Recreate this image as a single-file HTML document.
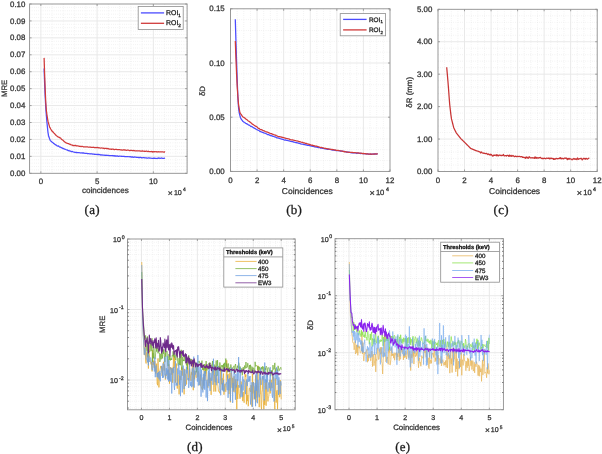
<!DOCTYPE html>
<html><head><meta charset="utf-8"><style>
html,body{margin:0;padding:0;background:#fff;}
svg{display:block;font-family:"Liberation Sans", sans-serif;will-change:transform;}
text{text-rendering:geometricPrecision;stroke:currentColor;stroke-width:0.28px;}
</style></head><body>
<svg width="602" height="454" viewBox="0 0 602 454">
<rect width="602" height="454" fill="#fff"/>
<line x1="29.6" y1="4" x2="29.6" y2="173.3" stroke="#d6d6d6" stroke-width="0.5" stroke-dasharray="0.6 1.6"/>
<line x1="52.1" y1="4" x2="52.1" y2="173.3" stroke="#d6d6d6" stroke-width="0.5" stroke-dasharray="0.6 1.6"/>
<line x1="63.35" y1="4" x2="63.35" y2="173.3" stroke="#d6d6d6" stroke-width="0.5" stroke-dasharray="0.6 1.6"/>
<line x1="74.6" y1="4" x2="74.6" y2="173.3" stroke="#d6d6d6" stroke-width="0.5" stroke-dasharray="0.6 1.6"/>
<line x1="85.85" y1="4" x2="85.85" y2="173.3" stroke="#d6d6d6" stroke-width="0.5" stroke-dasharray="0.6 1.6"/>
<line x1="108.35" y1="4" x2="108.35" y2="173.3" stroke="#d6d6d6" stroke-width="0.5" stroke-dasharray="0.6 1.6"/>
<line x1="119.6" y1="4" x2="119.6" y2="173.3" stroke="#d6d6d6" stroke-width="0.5" stroke-dasharray="0.6 1.6"/>
<line x1="130.85" y1="4" x2="130.85" y2="173.3" stroke="#d6d6d6" stroke-width="0.5" stroke-dasharray="0.6 1.6"/>
<line x1="142.1" y1="4" x2="142.1" y2="173.3" stroke="#d6d6d6" stroke-width="0.5" stroke-dasharray="0.6 1.6"/>
<line x1="164.6" y1="4" x2="164.6" y2="173.3" stroke="#d6d6d6" stroke-width="0.5" stroke-dasharray="0.6 1.6"/>
<line x1="175.85" y1="4" x2="175.85" y2="173.3" stroke="#d6d6d6" stroke-width="0.5" stroke-dasharray="0.6 1.6"/>
<line x1="187.1" y1="4" x2="187.1" y2="173.3" stroke="#d6d6d6" stroke-width="0.5" stroke-dasharray="0.6 1.6"/>
<line x1="29.6" y1="169.91" x2="187.1" y2="169.91" stroke="#d6d6d6" stroke-width="0.5" stroke-dasharray="0.6 1.6"/>
<line x1="29.6" y1="166.53" x2="187.1" y2="166.53" stroke="#d6d6d6" stroke-width="0.5" stroke-dasharray="0.6 1.6"/>
<line x1="29.6" y1="163.14" x2="187.1" y2="163.14" stroke="#d6d6d6" stroke-width="0.5" stroke-dasharray="0.6 1.6"/>
<line x1="29.6" y1="159.76" x2="187.1" y2="159.76" stroke="#d6d6d6" stroke-width="0.5" stroke-dasharray="0.6 1.6"/>
<line x1="29.6" y1="152.98" x2="187.1" y2="152.98" stroke="#d6d6d6" stroke-width="0.5" stroke-dasharray="0.6 1.6"/>
<line x1="29.6" y1="149.6" x2="187.1" y2="149.6" stroke="#d6d6d6" stroke-width="0.5" stroke-dasharray="0.6 1.6"/>
<line x1="29.6" y1="146.21" x2="187.1" y2="146.21" stroke="#d6d6d6" stroke-width="0.5" stroke-dasharray="0.6 1.6"/>
<line x1="29.6" y1="142.83" x2="187.1" y2="142.83" stroke="#d6d6d6" stroke-width="0.5" stroke-dasharray="0.6 1.6"/>
<line x1="29.6" y1="136.05" x2="187.1" y2="136.05" stroke="#d6d6d6" stroke-width="0.5" stroke-dasharray="0.6 1.6"/>
<line x1="29.6" y1="132.67" x2="187.1" y2="132.67" stroke="#d6d6d6" stroke-width="0.5" stroke-dasharray="0.6 1.6"/>
<line x1="29.6" y1="129.28" x2="187.1" y2="129.28" stroke="#d6d6d6" stroke-width="0.5" stroke-dasharray="0.6 1.6"/>
<line x1="29.6" y1="125.9" x2="187.1" y2="125.9" stroke="#d6d6d6" stroke-width="0.5" stroke-dasharray="0.6 1.6"/>
<line x1="29.6" y1="119.12" x2="187.1" y2="119.12" stroke="#d6d6d6" stroke-width="0.5" stroke-dasharray="0.6 1.6"/>
<line x1="29.6" y1="115.74" x2="187.1" y2="115.74" stroke="#d6d6d6" stroke-width="0.5" stroke-dasharray="0.6 1.6"/>
<line x1="29.6" y1="112.35" x2="187.1" y2="112.35" stroke="#d6d6d6" stroke-width="0.5" stroke-dasharray="0.6 1.6"/>
<line x1="29.6" y1="108.97" x2="187.1" y2="108.97" stroke="#d6d6d6" stroke-width="0.5" stroke-dasharray="0.6 1.6"/>
<line x1="29.6" y1="102.19" x2="187.1" y2="102.19" stroke="#d6d6d6" stroke-width="0.5" stroke-dasharray="0.6 1.6"/>
<line x1="29.6" y1="98.81" x2="187.1" y2="98.81" stroke="#d6d6d6" stroke-width="0.5" stroke-dasharray="0.6 1.6"/>
<line x1="29.6" y1="95.42" x2="187.1" y2="95.42" stroke="#d6d6d6" stroke-width="0.5" stroke-dasharray="0.6 1.6"/>
<line x1="29.6" y1="92.04" x2="187.1" y2="92.04" stroke="#d6d6d6" stroke-width="0.5" stroke-dasharray="0.6 1.6"/>
<line x1="29.6" y1="85.26" x2="187.1" y2="85.26" stroke="#d6d6d6" stroke-width="0.5" stroke-dasharray="0.6 1.6"/>
<line x1="29.6" y1="81.88" x2="187.1" y2="81.88" stroke="#d6d6d6" stroke-width="0.5" stroke-dasharray="0.6 1.6"/>
<line x1="29.6" y1="78.49" x2="187.1" y2="78.49" stroke="#d6d6d6" stroke-width="0.5" stroke-dasharray="0.6 1.6"/>
<line x1="29.6" y1="75.11" x2="187.1" y2="75.11" stroke="#d6d6d6" stroke-width="0.5" stroke-dasharray="0.6 1.6"/>
<line x1="29.6" y1="68.33" x2="187.1" y2="68.33" stroke="#d6d6d6" stroke-width="0.5" stroke-dasharray="0.6 1.6"/>
<line x1="29.6" y1="64.95" x2="187.1" y2="64.95" stroke="#d6d6d6" stroke-width="0.5" stroke-dasharray="0.6 1.6"/>
<line x1="29.6" y1="61.56" x2="187.1" y2="61.56" stroke="#d6d6d6" stroke-width="0.5" stroke-dasharray="0.6 1.6"/>
<line x1="29.6" y1="58.18" x2="187.1" y2="58.18" stroke="#d6d6d6" stroke-width="0.5" stroke-dasharray="0.6 1.6"/>
<line x1="29.6" y1="51.4" x2="187.1" y2="51.4" stroke="#d6d6d6" stroke-width="0.5" stroke-dasharray="0.6 1.6"/>
<line x1="29.6" y1="48.02" x2="187.1" y2="48.02" stroke="#d6d6d6" stroke-width="0.5" stroke-dasharray="0.6 1.6"/>
<line x1="29.6" y1="44.63" x2="187.1" y2="44.63" stroke="#d6d6d6" stroke-width="0.5" stroke-dasharray="0.6 1.6"/>
<line x1="29.6" y1="41.25" x2="187.1" y2="41.25" stroke="#d6d6d6" stroke-width="0.5" stroke-dasharray="0.6 1.6"/>
<line x1="29.6" y1="34.47" x2="187.1" y2="34.47" stroke="#d6d6d6" stroke-width="0.5" stroke-dasharray="0.6 1.6"/>
<line x1="29.6" y1="31.09" x2="187.1" y2="31.09" stroke="#d6d6d6" stroke-width="0.5" stroke-dasharray="0.6 1.6"/>
<line x1="29.6" y1="27.7" x2="187.1" y2="27.7" stroke="#d6d6d6" stroke-width="0.5" stroke-dasharray="0.6 1.6"/>
<line x1="29.6" y1="24.32" x2="187.1" y2="24.32" stroke="#d6d6d6" stroke-width="0.5" stroke-dasharray="0.6 1.6"/>
<line x1="29.6" y1="17.54" x2="187.1" y2="17.54" stroke="#d6d6d6" stroke-width="0.5" stroke-dasharray="0.6 1.6"/>
<line x1="29.6" y1="14.16" x2="187.1" y2="14.16" stroke="#d6d6d6" stroke-width="0.5" stroke-dasharray="0.6 1.6"/>
<line x1="29.6" y1="10.77" x2="187.1" y2="10.77" stroke="#d6d6d6" stroke-width="0.5" stroke-dasharray="0.6 1.6"/>
<line x1="29.6" y1="7.39" x2="187.1" y2="7.39" stroke="#d6d6d6" stroke-width="0.5" stroke-dasharray="0.6 1.6"/>
<line x1="40.85" y1="4" x2="40.85" y2="173.3" stroke="#e8e8e8" stroke-width="0.95"/>
<line x1="97.1" y1="4" x2="97.1" y2="173.3" stroke="#e8e8e8" stroke-width="0.95"/>
<line x1="153.35" y1="4" x2="153.35" y2="173.3" stroke="#e8e8e8" stroke-width="0.95"/>
<line x1="29.6" y1="156.37" x2="187.1" y2="156.37" stroke="#e8e8e8" stroke-width="0.95"/>
<line x1="29.6" y1="139.44" x2="187.1" y2="139.44" stroke="#e8e8e8" stroke-width="0.95"/>
<line x1="29.6" y1="122.51" x2="187.1" y2="122.51" stroke="#e8e8e8" stroke-width="0.95"/>
<line x1="29.6" y1="105.58" x2="187.1" y2="105.58" stroke="#e8e8e8" stroke-width="0.95"/>
<line x1="29.6" y1="88.65" x2="187.1" y2="88.65" stroke="#e8e8e8" stroke-width="0.95"/>
<line x1="29.6" y1="71.72" x2="187.1" y2="71.72" stroke="#e8e8e8" stroke-width="0.95"/>
<line x1="29.6" y1="54.79" x2="187.1" y2="54.79" stroke="#e8e8e8" stroke-width="0.95"/>
<line x1="29.6" y1="37.86" x2="187.1" y2="37.86" stroke="#e8e8e8" stroke-width="0.95"/>
<line x1="29.6" y1="20.93" x2="187.1" y2="20.93" stroke="#e8e8e8" stroke-width="0.95"/>
<polyline points="44.10,68.60 44.65,83.96 45.21,96.64 45.76,107.37 46.31,114.89 46.86,121.49 47.42,127.11 47.97,132.36 48.52,135.72 49.07,137.19 49.63,138.85 50.18,140.32 50.73,140.99 51.28,141.31 51.84,141.93 52.39,142.52 52.94,142.69 53.49,143.31 54.05,143.57 54.60,144.14 55.15,144.45 55.70,144.96 56.26,145.08 56.81,145.58 57.36,145.84 57.91,146.06 58.47,145.98 59.02,146.55 59.57,146.89 60.12,147.19 60.68,147.22 61.23,147.65 61.78,147.82 62.33,148.07 62.89,148.57 63.44,148.50 63.99,148.84 64.54,149.19 65.10,149.19 65.65,149.48 66.20,149.73 66.75,149.94 67.31,149.96 67.86,150.38 68.41,150.76 68.96,150.47 69.52,150.98 70.07,151.02 70.62,151.05 71.17,151.60 71.73,151.56 72.28,151.42 72.83,151.76 73.38,151.98 73.94,152.01 74.49,152.29 75.04,152.30 75.59,152.47 76.15,152.64 76.70,152.37 77.25,152.56 77.80,152.51 78.36,152.66 78.91,152.51 79.46,152.66 80.01,152.77 80.57,152.99 81.12,153.08 81.67,152.76 82.22,152.90 82.78,153.17 83.33,152.82 83.88,153.11 84.43,153.22 84.99,153.47 85.54,153.44 86.09,153.34 86.64,153.39 87.20,153.46 87.75,153.78 88.30,153.55 88.85,153.62 89.41,153.77 89.96,153.76 90.51,153.80 91.06,153.71 91.62,153.93 92.17,153.92 92.72,154.22 93.27,154.20 93.83,154.15 94.38,154.31 94.93,154.21 95.48,154.48 96.04,154.37 96.59,154.51 97.14,154.29 97.69,154.59 98.25,154.34 98.80,154.34 99.35,154.65 99.90,154.62 100.46,154.83 101.01,155.20 101.56,154.79 102.11,154.87 102.67,155.04 103.22,155.13 103.77,155.07 104.32,155.11 104.88,155.30 105.43,155.32 105.98,155.13 106.53,155.32 107.09,155.38 107.64,155.27 108.19,155.51 108.74,155.39 109.30,155.71 109.85,155.64 110.40,155.67 110.95,155.61 111.51,155.73 112.06,155.50 112.61,155.67 113.16,155.94 113.72,155.60 114.27,156.08 114.82,155.72 115.37,156.12 115.93,155.91 116.48,156.18 117.03,156.12 117.58,155.89 118.14,156.34 118.69,156.40 119.24,156.20 119.79,156.20 120.35,156.25 120.90,156.15 121.45,156.49 122.00,156.28 122.56,156.38 123.11,156.30 123.66,156.35 124.21,156.28 124.77,156.69 125.32,156.51 125.87,156.71 126.42,156.59 126.98,156.52 127.53,156.62 128.08,156.63 128.63,156.75 129.19,156.74 129.74,156.79 130.29,156.67 130.84,156.80 131.40,157.21 131.95,156.90 132.50,156.89 133.05,157.14 133.61,157.34 134.16,156.95 134.71,157.18 135.26,157.16 135.82,157.03 136.37,157.44 136.92,157.37 137.47,157.43 138.03,157.35 138.58,157.57 139.13,157.46 139.68,157.56 140.24,157.45 140.79,157.46 141.34,157.87 141.89,157.61 142.45,157.76 143.00,157.73 143.55,157.70 144.10,157.71 144.66,157.91 145.21,157.79 145.76,157.84 146.31,157.89 146.87,158.09 147.42,158.04 147.97,158.02 148.52,157.90 149.08,157.81 149.63,158.18 150.18,158.21 150.73,158.07 151.29,158.19 151.84,158.26 152.39,158.29 152.94,158.33 153.50,158.13 154.05,158.43 154.60,158.02 155.15,158.35 155.71,158.30 156.26,158.36 156.81,158.51 157.36,158.46 157.92,158.07 158.47,157.99 159.02,158.37 159.57,158.10 160.13,158.26 160.68,158.39 161.23,158.02 161.78,157.96 162.34,158.32 162.89,158.29 163.44,158.25 163.99,158.30 164.55,158.17 165.10,158.07" fill="none" stroke="#4b4bff" stroke-width="1.25" stroke-linejoin="round" stroke-opacity="1.0"/>
<polyline points="44.10,57.88 44.65,75.20 45.21,89.88 45.76,102.33 46.31,110.07 46.86,114.28 47.42,117.78 47.97,121.20 48.52,123.19 49.07,125.16 49.63,127.05 50.18,127.90 50.73,129.07 51.28,130.06 51.84,131.07 52.39,131.15 52.94,132.09 53.49,132.55 54.05,133.16 54.60,133.54 55.15,134.29 55.70,135.06 56.26,135.54 56.81,135.96 57.36,136.28 57.91,136.87 58.47,137.07 59.02,137.12 59.57,137.72 60.12,137.90 60.68,138.08 61.23,138.87 61.78,139.55 62.33,139.83 62.89,140.12 63.44,140.62 63.99,141.40 64.54,141.73 65.10,142.18 65.65,142.61 66.20,142.84 66.75,143.18 67.31,143.35 67.86,143.52 68.41,143.55 68.96,144.00 69.52,144.04 70.07,144.52 70.62,144.39 71.17,144.77 71.73,145.01 72.28,145.01 72.83,145.55 73.38,145.58 73.94,145.37 74.49,145.64 75.04,145.65 75.59,145.28 76.15,145.79 76.70,145.82 77.25,145.92 77.80,145.82 78.36,146.02 78.91,146.11 79.46,146.39 80.01,146.34 80.57,146.37 81.12,146.68 81.67,146.43 82.22,146.50 82.78,146.32 83.33,146.87 83.88,146.82 84.43,146.86 84.99,146.86 85.54,146.82 86.09,146.88 86.64,146.85 87.20,146.90 87.75,146.98 88.30,147.24 88.85,147.14 89.41,147.09 89.96,147.05 90.51,147.08 91.06,147.46 91.62,147.34 92.17,147.31 92.72,147.29 93.27,147.22 93.83,147.42 94.38,147.60 94.93,147.46 95.48,147.52 96.04,147.57 96.59,147.66 97.14,147.44 97.69,147.69 98.25,147.64 98.80,147.94 99.35,147.74 99.90,147.98 100.46,148.18 101.01,147.96 101.56,147.97 102.11,148.15 102.67,148.18 103.22,148.09 103.77,148.37 104.32,148.66 104.88,148.37 105.43,148.44 105.98,148.37 106.53,148.64 107.09,148.46 107.64,148.54 108.19,148.95 108.74,148.68 109.30,149.04 109.85,149.17 110.40,149.03 110.95,149.14 111.51,149.40 112.06,149.14 112.61,149.14 113.16,149.08 113.72,149.33 114.27,149.59 114.82,149.55 115.37,149.30 115.93,149.35 116.48,149.44 117.03,149.60 117.58,149.56 118.14,149.66 118.69,149.71 119.24,149.66 119.79,149.73 120.35,149.81 120.90,149.80 121.45,149.93 122.00,150.17 122.56,150.02 123.11,149.97 123.66,149.75 124.21,150.10 124.77,149.78 125.32,149.90 125.87,150.28 126.42,150.29 126.98,150.20 127.53,150.00 128.08,150.23 128.63,150.22 129.19,150.45 129.74,150.73 130.29,150.45 130.84,150.34 131.40,150.31 131.95,150.51 132.50,150.53 133.05,150.42 133.61,150.64 134.16,150.48 134.71,150.85 135.26,150.88 135.82,150.92 136.37,150.72 136.92,150.90 137.47,150.83 138.03,150.83 138.58,150.87 139.13,150.76 139.68,150.77 140.24,151.14 140.79,151.02 141.34,151.11 141.89,151.26 142.45,150.87 143.00,151.05 143.55,151.22 144.10,151.28 144.66,151.19 145.21,151.43 145.76,151.34 146.31,151.16 146.87,151.23 147.42,151.52 147.97,151.49 148.52,151.17 149.08,151.69 149.63,151.60 150.18,151.74 150.73,151.51 151.29,151.55 151.84,151.46 152.39,152.04 152.94,151.66 153.50,151.95 154.05,151.63 154.60,151.77 155.15,151.52 155.71,151.73 156.26,151.95 156.81,151.63 157.36,152.00 157.92,151.91 158.47,151.72 159.02,151.82 159.57,151.85 160.13,151.93 160.68,151.87 161.23,151.85 161.78,151.94 162.34,151.85 162.89,151.83 163.44,152.04 163.99,152.20 164.55,151.85 165.10,152.10" fill="none" stroke="#d03a3a" stroke-width="1.25" stroke-linejoin="round" stroke-opacity="1.0"/>
<rect x="29.6" y="4" width="157.5" height="169.3" fill="none" stroke="#8e8e8e" stroke-width="0.9"/>
<line x1="40.85" y1="173.3" x2="40.85" y2="171.3" stroke="#8e8e8e" stroke-width="0.8"/>
<line x1="40.85" y1="4" x2="40.85" y2="6" stroke="#8e8e8e" stroke-width="0.8"/>
<line x1="97.1" y1="173.3" x2="97.1" y2="171.3" stroke="#8e8e8e" stroke-width="0.8"/>
<line x1="97.1" y1="4" x2="97.1" y2="6" stroke="#8e8e8e" stroke-width="0.8"/>
<line x1="153.35" y1="173.3" x2="153.35" y2="171.3" stroke="#8e8e8e" stroke-width="0.8"/>
<line x1="153.35" y1="4" x2="153.35" y2="6" stroke="#8e8e8e" stroke-width="0.8"/>
<line x1="29.6" y1="173.3" x2="31.6" y2="173.3" stroke="#8e8e8e" stroke-width="0.8"/>
<line x1="187.1" y1="173.3" x2="185.1" y2="173.3" stroke="#8e8e8e" stroke-width="0.8"/>
<line x1="29.6" y1="156.37" x2="31.6" y2="156.37" stroke="#8e8e8e" stroke-width="0.8"/>
<line x1="187.1" y1="156.37" x2="185.1" y2="156.37" stroke="#8e8e8e" stroke-width="0.8"/>
<line x1="29.6" y1="139.44" x2="31.6" y2="139.44" stroke="#8e8e8e" stroke-width="0.8"/>
<line x1="187.1" y1="139.44" x2="185.1" y2="139.44" stroke="#8e8e8e" stroke-width="0.8"/>
<line x1="29.6" y1="122.51" x2="31.6" y2="122.51" stroke="#8e8e8e" stroke-width="0.8"/>
<line x1="187.1" y1="122.51" x2="185.1" y2="122.51" stroke="#8e8e8e" stroke-width="0.8"/>
<line x1="29.6" y1="105.58" x2="31.6" y2="105.58" stroke="#8e8e8e" stroke-width="0.8"/>
<line x1="187.1" y1="105.58" x2="185.1" y2="105.58" stroke="#8e8e8e" stroke-width="0.8"/>
<line x1="29.6" y1="88.65" x2="31.6" y2="88.65" stroke="#8e8e8e" stroke-width="0.8"/>
<line x1="187.1" y1="88.65" x2="185.1" y2="88.65" stroke="#8e8e8e" stroke-width="0.8"/>
<line x1="29.6" y1="71.72" x2="31.6" y2="71.72" stroke="#8e8e8e" stroke-width="0.8"/>
<line x1="187.1" y1="71.72" x2="185.1" y2="71.72" stroke="#8e8e8e" stroke-width="0.8"/>
<line x1="29.6" y1="54.79" x2="31.6" y2="54.79" stroke="#8e8e8e" stroke-width="0.8"/>
<line x1="187.1" y1="54.79" x2="185.1" y2="54.79" stroke="#8e8e8e" stroke-width="0.8"/>
<line x1="29.6" y1="37.86" x2="31.6" y2="37.86" stroke="#8e8e8e" stroke-width="0.8"/>
<line x1="187.1" y1="37.86" x2="185.1" y2="37.86" stroke="#8e8e8e" stroke-width="0.8"/>
<line x1="29.6" y1="20.93" x2="31.6" y2="20.93" stroke="#8e8e8e" stroke-width="0.8"/>
<line x1="187.1" y1="20.93" x2="185.1" y2="20.93" stroke="#8e8e8e" stroke-width="0.8"/>
<line x1="29.6" y1="4" x2="31.6" y2="4" stroke="#8e8e8e" stroke-width="0.8"/>
<line x1="187.1" y1="4" x2="185.1" y2="4" stroke="#8e8e8e" stroke-width="0.8"/>
<text x="25.4" y="175.9" font-size="7.9" text-anchor="end" fill="#333333" color="#333333" >0.00</text>
<text x="25.4" y="158.97" font-size="7.9" text-anchor="end" fill="#333333" color="#333333" >0.01</text>
<text x="25.4" y="142.04" font-size="7.9" text-anchor="end" fill="#333333" color="#333333" >0.02</text>
<text x="25.4" y="125.11" font-size="7.9" text-anchor="end" fill="#333333" color="#333333" >0.03</text>
<text x="25.4" y="108.18" font-size="7.9" text-anchor="end" fill="#333333" color="#333333" >0.04</text>
<text x="25.4" y="91.25" font-size="7.9" text-anchor="end" fill="#333333" color="#333333" >0.05</text>
<text x="25.4" y="74.32" font-size="7.9" text-anchor="end" fill="#333333" color="#333333" >0.06</text>
<text x="25.4" y="57.39" font-size="7.9" text-anchor="end" fill="#333333" color="#333333" >0.07</text>
<text x="25.4" y="40.46" font-size="7.9" text-anchor="end" fill="#333333" color="#333333" >0.08</text>
<text x="25.4" y="23.53" font-size="7.9" text-anchor="end" fill="#333333" color="#333333" >0.09</text>
<text x="25.4" y="6.6" font-size="7.9" text-anchor="end" fill="#333333" color="#333333" >0.10</text>
<text x="40.85" y="183.6" font-size="7.9" text-anchor="middle" fill="#333333" color="#333333" >0</text>
<text x="97.1" y="183.6" font-size="7.9" text-anchor="middle" fill="#333333" color="#333333" >5</text>
<text x="153.35" y="183.6" font-size="7.9" text-anchor="middle" fill="#333333" color="#333333" >10</text>
<text x="105.3" y="193.2" font-size="8.1" text-anchor="middle" fill="#333333" color="#333333" >coincidences</text>
<text x="7" y="88.4" font-size="7.8" text-anchor="middle" fill="#333333" color="#333333" transform="rotate(-90 7.0 88.4)">MRE</text>
<text x="170.35" y="196" font-size="8.52" text-anchor="middle" fill="#333333" color="#333333">×</text>
<text x="173.9" y="194.9" font-size="7.1" fill="#333333" color="#333333">10</text>
<text x="183" y="190.9" font-size="4.97" fill="#333333" color="#333333">4</text>
<rect x="138.2" y="6.5" width="45" height="23" fill="#fff" stroke="#8e8e8e" stroke-width="0.8"/>
<line x1="140.9" y1="12.9" x2="164.1" y2="12.9" stroke="#4b4bff" stroke-width="1.3"/>
<line x1="140.9" y1="23.3" x2="164.1" y2="23.3" stroke="#d03a3a" stroke-width="1.3"/>
<text x="166.1" y="14.9" font-size="6.9" fill="#222" color="#222">ROI<tspan font-size="4.6" dy="1.8">1</tspan></text>
<text x="166.1" y="25.3" font-size="6.9" fill="#222" color="#222">ROI<tspan font-size="4.6" dy="1.8">2</tspan></text>
<line x1="237.15" y1="8.8" x2="237.15" y2="171.4" stroke="#d6d6d6" stroke-width="0.5" stroke-dasharray="0.6 1.6"/>
<line x1="243.79" y1="8.8" x2="243.79" y2="171.4" stroke="#d6d6d6" stroke-width="0.5" stroke-dasharray="0.6 1.6"/>
<line x1="250.44" y1="8.8" x2="250.44" y2="171.4" stroke="#d6d6d6" stroke-width="0.5" stroke-dasharray="0.6 1.6"/>
<line x1="263.73" y1="8.8" x2="263.73" y2="171.4" stroke="#d6d6d6" stroke-width="0.5" stroke-dasharray="0.6 1.6"/>
<line x1="270.38" y1="8.8" x2="270.38" y2="171.4" stroke="#d6d6d6" stroke-width="0.5" stroke-dasharray="0.6 1.6"/>
<line x1="277.02" y1="8.8" x2="277.02" y2="171.4" stroke="#d6d6d6" stroke-width="0.5" stroke-dasharray="0.6 1.6"/>
<line x1="290.31" y1="8.8" x2="290.31" y2="171.4" stroke="#d6d6d6" stroke-width="0.5" stroke-dasharray="0.6 1.6"/>
<line x1="296.96" y1="8.8" x2="296.96" y2="171.4" stroke="#d6d6d6" stroke-width="0.5" stroke-dasharray="0.6 1.6"/>
<line x1="303.6" y1="8.8" x2="303.6" y2="171.4" stroke="#d6d6d6" stroke-width="0.5" stroke-dasharray="0.6 1.6"/>
<line x1="316.9" y1="8.8" x2="316.9" y2="171.4" stroke="#d6d6d6" stroke-width="0.5" stroke-dasharray="0.6 1.6"/>
<line x1="323.54" y1="8.8" x2="323.54" y2="171.4" stroke="#d6d6d6" stroke-width="0.5" stroke-dasharray="0.6 1.6"/>
<line x1="330.19" y1="8.8" x2="330.19" y2="171.4" stroke="#d6d6d6" stroke-width="0.5" stroke-dasharray="0.6 1.6"/>
<line x1="343.48" y1="8.8" x2="343.48" y2="171.4" stroke="#d6d6d6" stroke-width="0.5" stroke-dasharray="0.6 1.6"/>
<line x1="350.12" y1="8.8" x2="350.12" y2="171.4" stroke="#d6d6d6" stroke-width="0.5" stroke-dasharray="0.6 1.6"/>
<line x1="356.77" y1="8.8" x2="356.77" y2="171.4" stroke="#d6d6d6" stroke-width="0.5" stroke-dasharray="0.6 1.6"/>
<line x1="370.06" y1="8.8" x2="370.06" y2="171.4" stroke="#d6d6d6" stroke-width="0.5" stroke-dasharray="0.6 1.6"/>
<line x1="376.71" y1="8.8" x2="376.71" y2="171.4" stroke="#d6d6d6" stroke-width="0.5" stroke-dasharray="0.6 1.6"/>
<line x1="383.35" y1="8.8" x2="383.35" y2="171.4" stroke="#d6d6d6" stroke-width="0.5" stroke-dasharray="0.6 1.6"/>
<line x1="230.5" y1="160.56" x2="390" y2="160.56" stroke="#d6d6d6" stroke-width="0.5" stroke-dasharray="0.6 1.6"/>
<line x1="230.5" y1="149.72" x2="390" y2="149.72" stroke="#d6d6d6" stroke-width="0.5" stroke-dasharray="0.6 1.6"/>
<line x1="230.5" y1="138.88" x2="390" y2="138.88" stroke="#d6d6d6" stroke-width="0.5" stroke-dasharray="0.6 1.6"/>
<line x1="230.5" y1="128.04" x2="390" y2="128.04" stroke="#d6d6d6" stroke-width="0.5" stroke-dasharray="0.6 1.6"/>
<line x1="230.5" y1="106.36" x2="390" y2="106.36" stroke="#d6d6d6" stroke-width="0.5" stroke-dasharray="0.6 1.6"/>
<line x1="230.5" y1="95.52" x2="390" y2="95.52" stroke="#d6d6d6" stroke-width="0.5" stroke-dasharray="0.6 1.6"/>
<line x1="230.5" y1="84.68" x2="390" y2="84.68" stroke="#d6d6d6" stroke-width="0.5" stroke-dasharray="0.6 1.6"/>
<line x1="230.5" y1="73.84" x2="390" y2="73.84" stroke="#d6d6d6" stroke-width="0.5" stroke-dasharray="0.6 1.6"/>
<line x1="230.5" y1="52.16" x2="390" y2="52.16" stroke="#d6d6d6" stroke-width="0.5" stroke-dasharray="0.6 1.6"/>
<line x1="230.5" y1="41.32" x2="390" y2="41.32" stroke="#d6d6d6" stroke-width="0.5" stroke-dasharray="0.6 1.6"/>
<line x1="230.5" y1="30.48" x2="390" y2="30.48" stroke="#d6d6d6" stroke-width="0.5" stroke-dasharray="0.6 1.6"/>
<line x1="230.5" y1="19.64" x2="390" y2="19.64" stroke="#d6d6d6" stroke-width="0.5" stroke-dasharray="0.6 1.6"/>
<line x1="257.08" y1="8.8" x2="257.08" y2="171.4" stroke="#e8e8e8" stroke-width="0.95"/>
<line x1="283.67" y1="8.8" x2="283.67" y2="171.4" stroke="#e8e8e8" stroke-width="0.95"/>
<line x1="310.25" y1="8.8" x2="310.25" y2="171.4" stroke="#e8e8e8" stroke-width="0.95"/>
<line x1="336.83" y1="8.8" x2="336.83" y2="171.4" stroke="#e8e8e8" stroke-width="0.95"/>
<line x1="363.42" y1="8.8" x2="363.42" y2="171.4" stroke="#e8e8e8" stroke-width="0.95"/>
<line x1="230.5" y1="117.2" x2="390" y2="117.2" stroke="#e8e8e8" stroke-width="0.95"/>
<line x1="230.5" y1="63" x2="390" y2="63" stroke="#e8e8e8" stroke-width="0.95"/>
<polyline points="235.30,19.22 235.95,41.36 236.60,62.12 237.25,81.20 237.90,97.70 238.55,107.55 239.20,112.73 239.85,115.22 240.50,117.72 241.15,119.01 241.80,119.80 242.45,120.77 243.10,121.56 243.75,121.91 244.40,122.43 245.05,122.84 245.70,123.35 246.35,123.53 247.00,124.03 247.65,124.22 248.30,124.88 248.95,125.04 249.61,125.32 250.26,125.90 250.91,126.40 251.56,126.46 252.21,126.88 252.86,127.29 253.51,127.61 254.16,128.15 254.81,128.38 255.46,128.76 256.11,129.28 256.76,129.49 257.41,130.00 258.06,130.20 258.71,130.53 259.36,130.79 260.01,131.50 260.66,131.50 261.31,131.84 261.96,132.08 262.61,132.37 263.26,132.62 263.91,133.11 264.56,133.03 265.21,133.23 265.86,133.57 266.51,133.80 267.16,134.31 267.81,134.59 268.46,134.65 269.11,134.84 269.76,135.19 270.41,135.62 271.06,135.34 271.71,135.96 272.36,135.99 273.01,136.47 273.66,136.44 274.31,136.76 274.96,136.83 275.61,137.12 276.26,137.63 276.91,137.78 277.56,137.86 278.22,138.02 278.87,138.12 279.52,138.51 280.17,138.71 280.82,138.86 281.47,139.02 282.12,139.06 282.77,139.34 283.42,139.51 284.07,139.82 284.72,140.05 285.37,139.97 286.02,140.06 286.67,140.30 287.32,140.39 287.97,140.54 288.62,140.78 289.27,140.82 289.92,141.18 290.57,141.26 291.22,141.47 291.87,141.59 292.52,141.69 293.17,141.83 293.82,142.08 294.47,142.21 295.12,142.47 295.77,142.61 296.42,142.62 297.07,142.95 297.72,142.95 298.37,143.21 299.02,143.41 299.67,143.37 300.32,143.78 300.97,143.92 301.62,144.02 302.27,144.12 302.92,144.26 303.57,144.33 304.22,144.55 304.87,144.65 305.52,144.86 306.17,144.84 306.83,145.15 307.48,145.27 308.13,145.38 308.78,145.48 309.43,145.73 310.08,145.60 310.73,145.99 311.38,146.10 312.03,146.24 312.68,146.38 313.33,146.39 313.98,146.57 314.63,146.81 315.28,146.91 315.93,147.02 316.58,146.94 317.23,147.32 317.88,147.53 318.53,147.64 319.18,147.68 319.83,147.59 320.48,148.02 321.13,148.02 321.78,147.87 322.43,148.35 323.08,148.26 323.73,148.41 324.38,148.60 325.03,148.92 325.68,148.82 326.33,148.99 326.98,149.27 327.63,149.34 328.28,149.24 328.93,149.32 329.58,149.29 330.23,149.45 330.88,149.69 331.53,149.78 332.18,149.84 332.83,150.04 333.48,149.93 334.13,150.11 334.78,150.30 335.44,150.38 336.09,150.53 336.74,150.55 337.39,150.56 338.04,150.74 338.69,150.67 339.34,150.70 339.99,151.06 340.64,151.08 341.29,151.22 341.94,151.08 342.59,151.34 343.24,151.41 343.89,151.48 344.54,151.41 345.19,151.74 345.84,151.98 346.49,152.02 347.14,152.00 347.79,152.17 348.44,152.36 349.09,152.04 349.74,152.42 350.39,152.56 351.04,152.63 351.69,152.81 352.34,152.80 352.99,152.75 353.64,152.81 354.29,152.92 354.94,152.82 355.59,152.93 356.24,153.10 356.89,153.29 357.54,153.09 358.19,153.16 358.84,153.24 359.49,153.43 360.14,153.33 360.79,153.56 361.44,153.32 362.09,153.47 362.74,153.53 363.39,153.70 364.05,153.79 364.70,153.54 365.35,153.67 366.00,153.87 366.65,153.81 367.30,153.76 367.95,154.12 368.60,154.11 369.25,154.17 369.90,154.11 370.55,154.31 371.20,154.13 371.85,154.27 372.50,154.00 373.15,153.98 373.80,154.08 374.45,153.95 375.10,154.09 375.75,154.01 376.40,153.84 377.05,153.94 377.70,153.86" fill="none" stroke="#4b4bff" stroke-width="1.25" stroke-linejoin="round" stroke-opacity="1.0"/>
<polyline points="235.30,41.01 235.95,58.96 236.60,73.96 237.25,87.16 237.90,96.69 238.55,104.68 239.20,108.72 239.85,112.28 240.50,113.54 241.15,114.44 241.80,115.44 242.45,116.52 243.10,117.04 243.75,117.36 244.40,117.73 245.05,118.23 245.70,118.96 246.35,119.26 247.00,119.82 247.65,120.36 248.30,120.92 248.95,121.31 249.61,121.91 250.26,122.25 250.91,122.81 251.56,123.24 252.21,124.00 252.86,124.36 253.51,124.71 254.16,125.19 254.81,125.64 255.46,126.18 256.11,126.33 256.76,126.83 257.41,127.34 258.06,128.12 258.71,128.36 259.36,128.66 260.01,129.19 260.66,129.62 261.31,129.62 261.96,129.88 262.61,130.34 263.26,130.53 263.91,130.82 264.56,130.96 265.21,131.52 265.86,131.77 266.51,131.91 267.16,132.19 267.81,132.14 268.46,132.73 269.11,132.89 269.76,133.21 270.41,133.48 271.06,133.60 271.71,133.68 272.36,134.17 273.01,134.28 273.66,134.57 274.31,134.78 274.96,135.05 275.61,135.05 276.26,135.72 276.91,135.84 277.56,136.19 278.22,136.53 278.87,136.54 279.52,136.54 280.17,136.81 280.82,136.93 281.47,137.17 282.12,137.40 282.77,137.31 283.42,137.75 284.07,137.69 284.72,138.06 285.37,138.18 286.02,138.31 286.67,138.50 287.32,138.60 287.97,138.75 288.62,138.78 289.27,139.14 289.92,139.53 290.57,139.70 291.22,139.77 291.87,139.85 292.52,139.84 293.17,140.25 293.82,140.22 294.47,140.38 295.12,140.51 295.77,140.71 296.42,140.80 297.07,140.99 297.72,141.03 298.37,141.27 299.02,141.74 299.67,141.61 300.32,141.77 300.97,142.05 301.62,142.26 302.27,142.23 302.92,142.53 303.57,142.85 304.22,142.96 304.87,143.14 305.52,143.50 306.17,143.42 306.83,143.70 307.48,143.82 308.13,144.25 308.78,144.03 309.43,144.37 310.08,144.58 310.73,144.91 311.38,145.09 312.03,145.37 312.68,145.18 313.33,145.62 313.98,145.66 314.63,145.78 315.28,146.09 315.93,146.08 316.58,146.11 317.23,146.47 317.88,146.50 318.53,146.77 319.18,147.05 319.83,147.21 320.48,147.53 321.13,147.48 321.78,147.48 322.43,147.74 323.08,147.88 323.73,148.01 324.38,148.33 325.03,148.31 325.68,148.25 326.33,148.68 326.98,148.69 327.63,148.85 328.28,148.93 328.93,149.10 329.58,149.13 330.23,149.38 330.88,149.39 331.53,149.49 332.18,149.60 332.83,149.48 333.48,149.74 334.13,149.84 334.78,150.00 335.44,149.92 336.09,150.38 336.74,150.30 337.39,150.25 338.04,150.30 338.69,150.58 339.34,150.71 339.99,150.75 340.64,150.96 341.29,150.98 341.94,151.23 342.59,151.18 343.24,151.38 343.89,151.61 344.54,151.91 345.19,151.59 345.84,151.76 346.49,151.83 347.14,152.13 347.79,152.01 348.44,152.20 349.09,152.36 349.74,152.31 350.39,152.36 351.04,152.46 351.69,152.31 352.34,152.43 352.99,152.60 353.64,152.71 354.29,152.71 354.94,152.56 355.59,152.76 356.24,152.96 356.89,152.97 357.54,152.94 358.19,152.89 358.84,153.11 359.49,153.01 360.14,153.00 360.79,153.11 361.44,153.45 362.09,153.37 362.74,153.55 363.39,153.42 364.05,153.66 364.70,153.54 365.35,153.66 366.00,154.05 366.65,153.91 367.30,153.83 367.95,153.94 368.60,154.06 369.25,154.23 369.90,154.10 370.55,153.97 371.20,154.11 371.85,154.10 372.50,154.06 373.15,154.17 373.80,154.00 374.45,154.02 375.10,153.74 375.75,153.94 376.40,154.04 377.05,153.84 377.70,153.73" fill="none" stroke="#d03a3a" stroke-width="1.25" stroke-linejoin="round" stroke-opacity="1.0"/>
<rect x="230.5" y="8.8" width="159.5" height="162.6" fill="none" stroke="#8e8e8e" stroke-width="0.9"/>
<line x1="230.5" y1="171.4" x2="230.5" y2="169.4" stroke="#8e8e8e" stroke-width="0.8"/>
<line x1="230.5" y1="8.8" x2="230.5" y2="10.8" stroke="#8e8e8e" stroke-width="0.8"/>
<line x1="257.08" y1="171.4" x2="257.08" y2="169.4" stroke="#8e8e8e" stroke-width="0.8"/>
<line x1="257.08" y1="8.8" x2="257.08" y2="10.8" stroke="#8e8e8e" stroke-width="0.8"/>
<line x1="283.67" y1="171.4" x2="283.67" y2="169.4" stroke="#8e8e8e" stroke-width="0.8"/>
<line x1="283.67" y1="8.8" x2="283.67" y2="10.8" stroke="#8e8e8e" stroke-width="0.8"/>
<line x1="310.25" y1="171.4" x2="310.25" y2="169.4" stroke="#8e8e8e" stroke-width="0.8"/>
<line x1="310.25" y1="8.8" x2="310.25" y2="10.8" stroke="#8e8e8e" stroke-width="0.8"/>
<line x1="336.83" y1="171.4" x2="336.83" y2="169.4" stroke="#8e8e8e" stroke-width="0.8"/>
<line x1="336.83" y1="8.8" x2="336.83" y2="10.8" stroke="#8e8e8e" stroke-width="0.8"/>
<line x1="363.42" y1="171.4" x2="363.42" y2="169.4" stroke="#8e8e8e" stroke-width="0.8"/>
<line x1="363.42" y1="8.8" x2="363.42" y2="10.8" stroke="#8e8e8e" stroke-width="0.8"/>
<line x1="390" y1="171.4" x2="390" y2="169.4" stroke="#8e8e8e" stroke-width="0.8"/>
<line x1="390" y1="8.8" x2="390" y2="10.8" stroke="#8e8e8e" stroke-width="0.8"/>
<line x1="230.5" y1="171.4" x2="232.5" y2="171.4" stroke="#8e8e8e" stroke-width="0.8"/>
<line x1="390" y1="171.4" x2="388" y2="171.4" stroke="#8e8e8e" stroke-width="0.8"/>
<line x1="230.5" y1="117.2" x2="232.5" y2="117.2" stroke="#8e8e8e" stroke-width="0.8"/>
<line x1="390" y1="117.2" x2="388" y2="117.2" stroke="#8e8e8e" stroke-width="0.8"/>
<line x1="230.5" y1="63" x2="232.5" y2="63" stroke="#8e8e8e" stroke-width="0.8"/>
<line x1="390" y1="63" x2="388" y2="63" stroke="#8e8e8e" stroke-width="0.8"/>
<line x1="230.5" y1="8.8" x2="232.5" y2="8.8" stroke="#8e8e8e" stroke-width="0.8"/>
<line x1="390" y1="8.8" x2="388" y2="8.8" stroke="#8e8e8e" stroke-width="0.8"/>
<text x="224.7" y="174" font-size="7.9" text-anchor="end" fill="#333333" color="#333333" >0.00</text>
<text x="224.7" y="119.8" font-size="7.9" text-anchor="end" fill="#333333" color="#333333" >0.05</text>
<text x="224.7" y="65.6" font-size="7.9" text-anchor="end" fill="#333333" color="#333333" >0.10</text>
<text x="224.7" y="11.4" font-size="7.9" text-anchor="end" fill="#333333" color="#333333" >0.15</text>
<text x="230.5" y="182.8" font-size="7.9" text-anchor="middle" fill="#333333" color="#333333" >0</text>
<text x="257.08" y="182.8" font-size="7.9" text-anchor="middle" fill="#333333" color="#333333" >2</text>
<text x="283.67" y="182.8" font-size="7.9" text-anchor="middle" fill="#333333" color="#333333" >4</text>
<text x="310.25" y="182.8" font-size="7.9" text-anchor="middle" fill="#333333" color="#333333" >6</text>
<text x="336.83" y="182.8" font-size="7.9" text-anchor="middle" fill="#333333" color="#333333" >8</text>
<text x="363.42" y="182.8" font-size="7.9" text-anchor="middle" fill="#333333" color="#333333" >10</text>
<text x="390" y="182.8" font-size="7.9" text-anchor="middle" fill="#333333" color="#333333" >12</text>
<text x="307.3" y="193.7" font-size="8.5" text-anchor="middle" fill="#333333" color="#333333" >Coincidences</text>
<text x="204.6" y="91" font-size="7.8" fill="#333333" color="#333333" text-anchor="middle" transform="rotate(-90 204.6 91)">δD</text>
<text x="372.1" y="196" font-size="9.12" text-anchor="middle" fill="#333333" color="#333333">×</text>
<text x="375.9" y="194.9" font-size="7.6" fill="#333333" color="#333333">10</text>
<text x="386" y="190.9" font-size="5.32" fill="#333333" color="#333333">4</text>
<rect x="340.2" y="13.6" width="45.4" height="22.2" fill="#fff" stroke="#8e8e8e" stroke-width="0.8"/>
<line x1="343.1" y1="19.4" x2="366.6" y2="19.4" stroke="#4b4bff" stroke-width="1.3"/>
<line x1="343.1" y1="29.9" x2="366.6" y2="29.9" stroke="#d03a3a" stroke-width="1.3"/>
<text x="369" y="21.6" font-size="6.4" fill="#222" color="#222">ROI<tspan font-size="4.3" dy="1.7">1</tspan></text>
<text x="369" y="32.1" font-size="6.4" fill="#222" color="#222">ROI<tspan font-size="4.3" dy="1.7">2</tspan></text>
<line x1="444.63" y1="9.3" x2="444.63" y2="171.5" stroke="#d6d6d6" stroke-width="0.5" stroke-dasharray="0.6 1.6"/>
<line x1="451.27" y1="9.3" x2="451.27" y2="171.5" stroke="#d6d6d6" stroke-width="0.5" stroke-dasharray="0.6 1.6"/>
<line x1="457.9" y1="9.3" x2="457.9" y2="171.5" stroke="#d6d6d6" stroke-width="0.5" stroke-dasharray="0.6 1.6"/>
<line x1="471.17" y1="9.3" x2="471.17" y2="171.5" stroke="#d6d6d6" stroke-width="0.5" stroke-dasharray="0.6 1.6"/>
<line x1="477.8" y1="9.3" x2="477.8" y2="171.5" stroke="#d6d6d6" stroke-width="0.5" stroke-dasharray="0.6 1.6"/>
<line x1="484.43" y1="9.3" x2="484.43" y2="171.5" stroke="#d6d6d6" stroke-width="0.5" stroke-dasharray="0.6 1.6"/>
<line x1="497.7" y1="9.3" x2="497.7" y2="171.5" stroke="#d6d6d6" stroke-width="0.5" stroke-dasharray="0.6 1.6"/>
<line x1="504.33" y1="9.3" x2="504.33" y2="171.5" stroke="#d6d6d6" stroke-width="0.5" stroke-dasharray="0.6 1.6"/>
<line x1="510.97" y1="9.3" x2="510.97" y2="171.5" stroke="#d6d6d6" stroke-width="0.5" stroke-dasharray="0.6 1.6"/>
<line x1="524.23" y1="9.3" x2="524.23" y2="171.5" stroke="#d6d6d6" stroke-width="0.5" stroke-dasharray="0.6 1.6"/>
<line x1="530.87" y1="9.3" x2="530.87" y2="171.5" stroke="#d6d6d6" stroke-width="0.5" stroke-dasharray="0.6 1.6"/>
<line x1="537.5" y1="9.3" x2="537.5" y2="171.5" stroke="#d6d6d6" stroke-width="0.5" stroke-dasharray="0.6 1.6"/>
<line x1="550.77" y1="9.3" x2="550.77" y2="171.5" stroke="#d6d6d6" stroke-width="0.5" stroke-dasharray="0.6 1.6"/>
<line x1="557.4" y1="9.3" x2="557.4" y2="171.5" stroke="#d6d6d6" stroke-width="0.5" stroke-dasharray="0.6 1.6"/>
<line x1="564.03" y1="9.3" x2="564.03" y2="171.5" stroke="#d6d6d6" stroke-width="0.5" stroke-dasharray="0.6 1.6"/>
<line x1="577.3" y1="9.3" x2="577.3" y2="171.5" stroke="#d6d6d6" stroke-width="0.5" stroke-dasharray="0.6 1.6"/>
<line x1="583.93" y1="9.3" x2="583.93" y2="171.5" stroke="#d6d6d6" stroke-width="0.5" stroke-dasharray="0.6 1.6"/>
<line x1="590.57" y1="9.3" x2="590.57" y2="171.5" stroke="#d6d6d6" stroke-width="0.5" stroke-dasharray="0.6 1.6"/>
<line x1="438" y1="165.01" x2="597.2" y2="165.01" stroke="#d6d6d6" stroke-width="0.5" stroke-dasharray="0.6 1.6"/>
<line x1="438" y1="158.52" x2="597.2" y2="158.52" stroke="#d6d6d6" stroke-width="0.5" stroke-dasharray="0.6 1.6"/>
<line x1="438" y1="152.04" x2="597.2" y2="152.04" stroke="#d6d6d6" stroke-width="0.5" stroke-dasharray="0.6 1.6"/>
<line x1="438" y1="145.55" x2="597.2" y2="145.55" stroke="#d6d6d6" stroke-width="0.5" stroke-dasharray="0.6 1.6"/>
<line x1="438" y1="132.57" x2="597.2" y2="132.57" stroke="#d6d6d6" stroke-width="0.5" stroke-dasharray="0.6 1.6"/>
<line x1="438" y1="126.08" x2="597.2" y2="126.08" stroke="#d6d6d6" stroke-width="0.5" stroke-dasharray="0.6 1.6"/>
<line x1="438" y1="119.6" x2="597.2" y2="119.6" stroke="#d6d6d6" stroke-width="0.5" stroke-dasharray="0.6 1.6"/>
<line x1="438" y1="113.11" x2="597.2" y2="113.11" stroke="#d6d6d6" stroke-width="0.5" stroke-dasharray="0.6 1.6"/>
<line x1="438" y1="100.13" x2="597.2" y2="100.13" stroke="#d6d6d6" stroke-width="0.5" stroke-dasharray="0.6 1.6"/>
<line x1="438" y1="93.64" x2="597.2" y2="93.64" stroke="#d6d6d6" stroke-width="0.5" stroke-dasharray="0.6 1.6"/>
<line x1="438" y1="87.16" x2="597.2" y2="87.16" stroke="#d6d6d6" stroke-width="0.5" stroke-dasharray="0.6 1.6"/>
<line x1="438" y1="80.67" x2="597.2" y2="80.67" stroke="#d6d6d6" stroke-width="0.5" stroke-dasharray="0.6 1.6"/>
<line x1="438" y1="67.69" x2="597.2" y2="67.69" stroke="#d6d6d6" stroke-width="0.5" stroke-dasharray="0.6 1.6"/>
<line x1="438" y1="61.2" x2="597.2" y2="61.2" stroke="#d6d6d6" stroke-width="0.5" stroke-dasharray="0.6 1.6"/>
<line x1="438" y1="54.72" x2="597.2" y2="54.72" stroke="#d6d6d6" stroke-width="0.5" stroke-dasharray="0.6 1.6"/>
<line x1="438" y1="48.23" x2="597.2" y2="48.23" stroke="#d6d6d6" stroke-width="0.5" stroke-dasharray="0.6 1.6"/>
<line x1="438" y1="35.25" x2="597.2" y2="35.25" stroke="#d6d6d6" stroke-width="0.5" stroke-dasharray="0.6 1.6"/>
<line x1="438" y1="28.76" x2="597.2" y2="28.76" stroke="#d6d6d6" stroke-width="0.5" stroke-dasharray="0.6 1.6"/>
<line x1="438" y1="22.28" x2="597.2" y2="22.28" stroke="#d6d6d6" stroke-width="0.5" stroke-dasharray="0.6 1.6"/>
<line x1="438" y1="15.79" x2="597.2" y2="15.79" stroke="#d6d6d6" stroke-width="0.5" stroke-dasharray="0.6 1.6"/>
<line x1="464.53" y1="9.3" x2="464.53" y2="171.5" stroke="#e8e8e8" stroke-width="0.95"/>
<line x1="491.07" y1="9.3" x2="491.07" y2="171.5" stroke="#e8e8e8" stroke-width="0.95"/>
<line x1="517.6" y1="9.3" x2="517.6" y2="171.5" stroke="#e8e8e8" stroke-width="0.95"/>
<line x1="544.13" y1="9.3" x2="544.13" y2="171.5" stroke="#e8e8e8" stroke-width="0.95"/>
<line x1="570.67" y1="9.3" x2="570.67" y2="171.5" stroke="#e8e8e8" stroke-width="0.95"/>
<line x1="438" y1="139.06" x2="597.2" y2="139.06" stroke="#e8e8e8" stroke-width="0.95"/>
<line x1="438" y1="106.62" x2="597.2" y2="106.62" stroke="#e8e8e8" stroke-width="0.95"/>
<line x1="438" y1="74.18" x2="597.2" y2="74.18" stroke="#e8e8e8" stroke-width="0.95"/>
<line x1="438" y1="41.74" x2="597.2" y2="41.74" stroke="#e8e8e8" stroke-width="0.95"/>
<polyline points="446.70,67.30 447.30,74.03 447.89,80.75 448.49,88.24 449.09,96.51 449.69,104.33 450.28,109.46 450.88,114.59 451.48,118.89 452.07,121.20 452.67,123.52 453.27,125.83 453.86,128.03 454.46,129.22 455.06,130.42 455.66,131.61 456.25,132.77 456.85,133.53 457.45,134.29 458.04,135.04 458.64,135.80 459.24,136.56 459.84,137.32 460.43,138.08 461.03,138.83 461.63,139.41 462.22,140.00 462.82,140.58 463.42,141.17 464.02,141.75 464.61,142.34 465.21,142.92 465.81,143.51 466.40,144.11 467.00,144.72 467.60,145.33 468.19,145.94 468.79,146.55 469.39,147.16 469.99,147.77 470.58,148.38 471.18,148.69 471.78,148.92 472.37,149.16 472.97,149.39 473.57,149.63 474.17,149.86 474.76,150.10 475.36,150.33 475.96,150.57 476.55,150.80 477.15,151.02 477.75,151.21 478.34,151.41 478.94,151.60 479.54,151.80 480.14,152.07 480.73,153.00 481.33,151.97 481.93,152.54 482.52,152.99 483.12,153.31 483.72,152.98 484.32,153.49 484.91,153.37 485.51,153.69 486.11,153.71 486.70,153.40 487.30,154.05 487.90,154.59 488.49,153.90 489.09,154.37 489.69,154.92 490.29,154.28 490.88,154.98 491.48,154.53 492.08,155.53 492.67,156.08 493.27,155.97 493.87,154.98 494.47,155.43 495.06,155.17 495.66,155.18 496.26,155.85 496.85,154.58 497.45,155.67 498.05,155.19 498.65,155.86 499.24,155.33 499.84,154.96 500.44,155.41 501.03,155.63 501.63,155.35 502.23,155.59 502.82,155.16 503.42,154.47 504.02,155.87 504.62,155.81 505.21,155.60 505.81,155.59 506.41,156.06 507.00,155.42 507.60,155.34 508.20,155.61 508.80,156.26 509.39,155.13 509.99,156.33 510.59,155.54 511.18,155.36 511.78,156.46 512.38,155.89 512.97,155.41 513.57,155.90 514.17,156.54 514.77,156.71 515.36,156.04 515.96,156.48 516.56,156.68 517.15,156.13 517.75,156.63 518.35,156.52 518.95,156.35 519.54,156.43 520.14,156.74 520.74,156.79 521.33,156.58 521.93,156.70 522.53,157.45 523.13,157.11 523.72,157.47 524.32,157.67 524.92,157.46 525.51,158.27 526.11,156.94 526.71,157.73 527.30,157.27 527.90,158.28 528.50,158.25 529.10,156.63 529.69,157.11 530.29,157.88 530.89,157.96 531.48,157.97 532.08,157.64 532.68,157.91 533.28,158.03 533.87,157.73 534.47,158.26 535.07,156.82 535.66,158.15 536.26,157.43 536.86,158.36 537.45,157.86 538.05,157.59 538.65,158.19 539.25,157.65 539.84,157.68 540.44,157.42 541.04,158.14 541.63,158.41 542.23,158.67 542.83,158.16 543.43,158.71 544.02,158.26 544.62,158.23 545.22,158.55 545.81,158.78 546.41,158.17 547.01,158.23 547.61,158.28 548.20,158.41 548.80,157.98 549.40,158.86 549.99,158.24 550.59,158.64 551.19,158.08 551.78,158.63 552.38,158.66 552.98,158.31 553.58,159.42 554.17,158.69 554.77,159.34 555.37,158.99 555.96,158.28 556.56,158.42 557.16,158.80 557.76,158.65 558.35,158.66 558.95,158.53 559.55,157.86 560.14,158.59 560.74,157.70 561.34,158.89 561.93,158.41 562.53,158.43 563.13,158.67 563.73,158.91 564.32,158.15 564.92,158.03 565.52,158.35 566.11,157.93 566.71,158.43 567.31,159.60 567.91,158.42 568.50,159.20 569.10,158.31 569.70,159.08 570.29,158.82 570.89,158.95 571.49,159.25 572.08,159.79 572.68,159.07 573.28,159.03 573.88,158.53 574.47,159.22 575.07,158.83 575.67,159.31 576.26,158.90 576.86,159.70 577.46,158.01 578.06,158.76 578.65,159.28 579.25,158.72 579.85,158.51 580.44,158.73 581.04,158.22 581.64,158.89 582.24,159.92 582.83,159.33 583.43,158.30 584.03,158.40 584.62,158.60 585.22,159.22 585.82,158.39 586.41,158.44 587.01,159.14 587.61,159.12 588.21,158.55 588.80,158.21 589.40,158.00" fill="none" stroke="#c83434" stroke-width="1.25" stroke-linejoin="round" stroke-opacity="1.0"/>
<rect x="438" y="9.3" width="159.2" height="162.2" fill="none" stroke="#8e8e8e" stroke-width="0.9"/>
<line x1="438" y1="171.5" x2="438" y2="169.5" stroke="#8e8e8e" stroke-width="0.8"/>
<line x1="438" y1="9.3" x2="438" y2="11.3" stroke="#8e8e8e" stroke-width="0.8"/>
<line x1="464.53" y1="171.5" x2="464.53" y2="169.5" stroke="#8e8e8e" stroke-width="0.8"/>
<line x1="464.53" y1="9.3" x2="464.53" y2="11.3" stroke="#8e8e8e" stroke-width="0.8"/>
<line x1="491.07" y1="171.5" x2="491.07" y2="169.5" stroke="#8e8e8e" stroke-width="0.8"/>
<line x1="491.07" y1="9.3" x2="491.07" y2="11.3" stroke="#8e8e8e" stroke-width="0.8"/>
<line x1="517.6" y1="171.5" x2="517.6" y2="169.5" stroke="#8e8e8e" stroke-width="0.8"/>
<line x1="517.6" y1="9.3" x2="517.6" y2="11.3" stroke="#8e8e8e" stroke-width="0.8"/>
<line x1="544.13" y1="171.5" x2="544.13" y2="169.5" stroke="#8e8e8e" stroke-width="0.8"/>
<line x1="544.13" y1="9.3" x2="544.13" y2="11.3" stroke="#8e8e8e" stroke-width="0.8"/>
<line x1="570.67" y1="171.5" x2="570.67" y2="169.5" stroke="#8e8e8e" stroke-width="0.8"/>
<line x1="570.67" y1="9.3" x2="570.67" y2="11.3" stroke="#8e8e8e" stroke-width="0.8"/>
<line x1="597.2" y1="171.5" x2="597.2" y2="169.5" stroke="#8e8e8e" stroke-width="0.8"/>
<line x1="597.2" y1="9.3" x2="597.2" y2="11.3" stroke="#8e8e8e" stroke-width="0.8"/>
<line x1="438" y1="171.5" x2="440" y2="171.5" stroke="#8e8e8e" stroke-width="0.8"/>
<line x1="597.2" y1="171.5" x2="595.2" y2="171.5" stroke="#8e8e8e" stroke-width="0.8"/>
<line x1="438" y1="139.06" x2="440" y2="139.06" stroke="#8e8e8e" stroke-width="0.8"/>
<line x1="597.2" y1="139.06" x2="595.2" y2="139.06" stroke="#8e8e8e" stroke-width="0.8"/>
<line x1="438" y1="106.62" x2="440" y2="106.62" stroke="#8e8e8e" stroke-width="0.8"/>
<line x1="597.2" y1="106.62" x2="595.2" y2="106.62" stroke="#8e8e8e" stroke-width="0.8"/>
<line x1="438" y1="74.18" x2="440" y2="74.18" stroke="#8e8e8e" stroke-width="0.8"/>
<line x1="597.2" y1="74.18" x2="595.2" y2="74.18" stroke="#8e8e8e" stroke-width="0.8"/>
<line x1="438" y1="41.74" x2="440" y2="41.74" stroke="#8e8e8e" stroke-width="0.8"/>
<line x1="597.2" y1="41.74" x2="595.2" y2="41.74" stroke="#8e8e8e" stroke-width="0.8"/>
<line x1="438" y1="9.3" x2="440" y2="9.3" stroke="#8e8e8e" stroke-width="0.8"/>
<line x1="597.2" y1="9.3" x2="595.2" y2="9.3" stroke="#8e8e8e" stroke-width="0.8"/>
<text x="432.3" y="174.1" font-size="7.9" text-anchor="end" fill="#333333" color="#333333" >0.00</text>
<text x="432.3" y="141.66" font-size="7.9" text-anchor="end" fill="#333333" color="#333333" >1.00</text>
<text x="432.3" y="109.22" font-size="7.9" text-anchor="end" fill="#333333" color="#333333" >2.00</text>
<text x="432.3" y="76.78" font-size="7.9" text-anchor="end" fill="#333333" color="#333333" >3.00</text>
<text x="432.3" y="44.34" font-size="7.9" text-anchor="end" fill="#333333" color="#333333" >4.00</text>
<text x="432.3" y="11.9" font-size="7.9" text-anchor="end" fill="#333333" color="#333333" >5.00</text>
<text x="438" y="182.8" font-size="7.9" text-anchor="middle" fill="#333333" color="#333333" >0</text>
<text x="464.53" y="182.8" font-size="7.9" text-anchor="middle" fill="#333333" color="#333333" >2</text>
<text x="491.07" y="182.8" font-size="7.9" text-anchor="middle" fill="#333333" color="#333333" >4</text>
<text x="517.6" y="182.8" font-size="7.9" text-anchor="middle" fill="#333333" color="#333333" >6</text>
<text x="544.13" y="182.8" font-size="7.9" text-anchor="middle" fill="#333333" color="#333333" >8</text>
<text x="570.67" y="182.8" font-size="7.9" text-anchor="middle" fill="#333333" color="#333333" >10</text>
<text x="597.2" y="182.8" font-size="7.9" text-anchor="middle" fill="#333333" color="#333333" >12</text>
<text x="514.6" y="193.7" font-size="8.5" text-anchor="middle" fill="#333333" color="#333333" >Coincidences</text>
<text x="412.4" y="92.3" font-size="7.9" fill="#333333" color="#333333" text-anchor="middle" transform="rotate(-90 412.4 92.3)">δR (mm)</text>
<text x="579.35" y="196" font-size="9.12" text-anchor="middle" fill="#333333" color="#333333">×</text>
<text x="583.2" y="194.9" font-size="7.6" fill="#333333" color="#333333">10</text>
<text x="593" y="190.9" font-size="5.32" fill="#333333" color="#333333">4</text>
<line x1="130.29" y1="239" x2="130.29" y2="409.8" stroke="#d6d6d6" stroke-width="0.5" stroke-dasharray="0.6 1.6"/>
<line x1="135.88" y1="239" x2="135.88" y2="409.8" stroke="#d6d6d6" stroke-width="0.5" stroke-dasharray="0.6 1.6"/>
<line x1="147.06" y1="239" x2="147.06" y2="409.8" stroke="#d6d6d6" stroke-width="0.5" stroke-dasharray="0.6 1.6"/>
<line x1="152.66" y1="239" x2="152.66" y2="409.8" stroke="#d6d6d6" stroke-width="0.5" stroke-dasharray="0.6 1.6"/>
<line x1="158.25" y1="239" x2="158.25" y2="409.8" stroke="#d6d6d6" stroke-width="0.5" stroke-dasharray="0.6 1.6"/>
<line x1="163.84" y1="239" x2="163.84" y2="409.8" stroke="#d6d6d6" stroke-width="0.5" stroke-dasharray="0.6 1.6"/>
<line x1="175.01" y1="239" x2="175.01" y2="409.8" stroke="#d6d6d6" stroke-width="0.5" stroke-dasharray="0.6 1.6"/>
<line x1="180.6" y1="239" x2="180.6" y2="409.8" stroke="#d6d6d6" stroke-width="0.5" stroke-dasharray="0.6 1.6"/>
<line x1="186.19" y1="239" x2="186.19" y2="409.8" stroke="#d6d6d6" stroke-width="0.5" stroke-dasharray="0.6 1.6"/>
<line x1="191.78" y1="239" x2="191.78" y2="409.8" stroke="#d6d6d6" stroke-width="0.5" stroke-dasharray="0.6 1.6"/>
<line x1="202.97" y1="239" x2="202.97" y2="409.8" stroke="#d6d6d6" stroke-width="0.5" stroke-dasharray="0.6 1.6"/>
<line x1="208.56" y1="239" x2="208.56" y2="409.8" stroke="#d6d6d6" stroke-width="0.5" stroke-dasharray="0.6 1.6"/>
<line x1="214.14" y1="239" x2="214.14" y2="409.8" stroke="#d6d6d6" stroke-width="0.5" stroke-dasharray="0.6 1.6"/>
<line x1="219.74" y1="239" x2="219.74" y2="409.8" stroke="#d6d6d6" stroke-width="0.5" stroke-dasharray="0.6 1.6"/>
<line x1="230.92" y1="239" x2="230.92" y2="409.8" stroke="#d6d6d6" stroke-width="0.5" stroke-dasharray="0.6 1.6"/>
<line x1="236.5" y1="239" x2="236.5" y2="409.8" stroke="#d6d6d6" stroke-width="0.5" stroke-dasharray="0.6 1.6"/>
<line x1="242.09" y1="239" x2="242.09" y2="409.8" stroke="#d6d6d6" stroke-width="0.5" stroke-dasharray="0.6 1.6"/>
<line x1="247.69" y1="239" x2="247.69" y2="409.8" stroke="#d6d6d6" stroke-width="0.5" stroke-dasharray="0.6 1.6"/>
<line x1="258.87" y1="239" x2="258.87" y2="409.8" stroke="#d6d6d6" stroke-width="0.5" stroke-dasharray="0.6 1.6"/>
<line x1="264.46" y1="239" x2="264.46" y2="409.8" stroke="#d6d6d6" stroke-width="0.5" stroke-dasharray="0.6 1.6"/>
<line x1="270.04" y1="239" x2="270.04" y2="409.8" stroke="#d6d6d6" stroke-width="0.5" stroke-dasharray="0.6 1.6"/>
<line x1="275.63" y1="239" x2="275.63" y2="409.8" stroke="#d6d6d6" stroke-width="0.5" stroke-dasharray="0.6 1.6"/>
<line x1="286.81" y1="239" x2="286.81" y2="409.8" stroke="#d6d6d6" stroke-width="0.5" stroke-dasharray="0.6 1.6"/>
<line x1="292.4" y1="239" x2="292.4" y2="409.8" stroke="#d6d6d6" stroke-width="0.5" stroke-dasharray="0.6 1.6"/>
<line x1="127.5" y1="408.05" x2="295.2" y2="408.05" stroke="#d6d6d6" stroke-width="0.5" stroke-dasharray="0.6 1.6"/>
<line x1="127.5" y1="401.22" x2="295.2" y2="401.22" stroke="#d6d6d6" stroke-width="0.5" stroke-dasharray="0.6 1.6"/>
<line x1="127.5" y1="395.64" x2="295.2" y2="395.64" stroke="#d6d6d6" stroke-width="0.5" stroke-dasharray="0.6 1.6"/>
<line x1="127.5" y1="390.92" x2="295.2" y2="390.92" stroke="#d6d6d6" stroke-width="0.5" stroke-dasharray="0.6 1.6"/>
<line x1="127.5" y1="386.83" x2="295.2" y2="386.83" stroke="#d6d6d6" stroke-width="0.5" stroke-dasharray="0.6 1.6"/>
<line x1="127.5" y1="383.23" x2="295.2" y2="383.23" stroke="#d6d6d6" stroke-width="0.5" stroke-dasharray="0.6 1.6"/>
<line x1="127.5" y1="358.78" x2="295.2" y2="358.78" stroke="#d6d6d6" stroke-width="0.5" stroke-dasharray="0.6 1.6"/>
<line x1="127.5" y1="346.36" x2="295.2" y2="346.36" stroke="#d6d6d6" stroke-width="0.5" stroke-dasharray="0.6 1.6"/>
<line x1="127.5" y1="337.55" x2="295.2" y2="337.55" stroke="#d6d6d6" stroke-width="0.5" stroke-dasharray="0.6 1.6"/>
<line x1="127.5" y1="330.72" x2="295.2" y2="330.72" stroke="#d6d6d6" stroke-width="0.5" stroke-dasharray="0.6 1.6"/>
<line x1="127.5" y1="325.14" x2="295.2" y2="325.14" stroke="#d6d6d6" stroke-width="0.5" stroke-dasharray="0.6 1.6"/>
<line x1="127.5" y1="320.42" x2="295.2" y2="320.42" stroke="#d6d6d6" stroke-width="0.5" stroke-dasharray="0.6 1.6"/>
<line x1="127.5" y1="316.33" x2="295.2" y2="316.33" stroke="#d6d6d6" stroke-width="0.5" stroke-dasharray="0.6 1.6"/>
<line x1="127.5" y1="312.73" x2="295.2" y2="312.73" stroke="#d6d6d6" stroke-width="0.5" stroke-dasharray="0.6 1.6"/>
<line x1="127.5" y1="288.28" x2="295.2" y2="288.28" stroke="#d6d6d6" stroke-width="0.5" stroke-dasharray="0.6 1.6"/>
<line x1="127.5" y1="275.86" x2="295.2" y2="275.86" stroke="#d6d6d6" stroke-width="0.5" stroke-dasharray="0.6 1.6"/>
<line x1="127.5" y1="267.05" x2="295.2" y2="267.05" stroke="#d6d6d6" stroke-width="0.5" stroke-dasharray="0.6 1.6"/>
<line x1="127.5" y1="260.22" x2="295.2" y2="260.22" stroke="#d6d6d6" stroke-width="0.5" stroke-dasharray="0.6 1.6"/>
<line x1="127.5" y1="254.64" x2="295.2" y2="254.64" stroke="#d6d6d6" stroke-width="0.5" stroke-dasharray="0.6 1.6"/>
<line x1="127.5" y1="249.92" x2="295.2" y2="249.92" stroke="#d6d6d6" stroke-width="0.5" stroke-dasharray="0.6 1.6"/>
<line x1="127.5" y1="245.83" x2="295.2" y2="245.83" stroke="#d6d6d6" stroke-width="0.5" stroke-dasharray="0.6 1.6"/>
<line x1="127.5" y1="242.23" x2="295.2" y2="242.23" stroke="#d6d6d6" stroke-width="0.5" stroke-dasharray="0.6 1.6"/>
<line x1="141.47" y1="239" x2="141.47" y2="409.8" stroke="#e8e8e8" stroke-width="0.95"/>
<line x1="169.43" y1="239" x2="169.43" y2="409.8" stroke="#e8e8e8" stroke-width="0.95"/>
<line x1="197.38" y1="239" x2="197.38" y2="409.8" stroke="#e8e8e8" stroke-width="0.95"/>
<line x1="225.32" y1="239" x2="225.32" y2="409.8" stroke="#e8e8e8" stroke-width="0.95"/>
<line x1="253.27" y1="239" x2="253.27" y2="409.8" stroke="#e8e8e8" stroke-width="0.95"/>
<line x1="281.23" y1="239" x2="281.23" y2="409.8" stroke="#e8e8e8" stroke-width="0.95"/>
<line x1="127.5" y1="309.5" x2="295.2" y2="309.5" stroke="#e8e8e8" stroke-width="0.95"/>
<line x1="127.5" y1="380" x2="295.2" y2="380" stroke="#e8e8e8" stroke-width="0.95"/>
<polyline points="141.75,262.00 142.03,278.44 142.45,310.54 142.87,321.95 143.43,337.80 144.27,354.54 144.73,355.19 145.19,346.21 145.64,361.03 146.10,363.53 146.56,352.55 147.02,351.81 147.48,357.54 147.93,348.80 148.39,368.58 148.85,344.69 149.31,353.41 149.77,359.30 150.22,360.12 150.68,363.23 151.14,364.49 151.60,361.86 152.06,371.40 152.51,350.07 152.97,364.96 153.43,360.67 153.89,366.99 154.35,368.17 154.81,360.89 155.26,363.30 155.72,373.66 156.18,370.72 156.64,363.61 157.10,383.11 157.55,385.26 158.01,358.41 158.47,371.26 158.93,387.43 159.39,375.12 159.84,371.19 160.30,368.21 160.76,365.91 161.22,368.49 161.68,366.13 162.13,375.96 162.59,367.56 163.05,367.39 163.51,361.77 163.97,370.67 164.42,364.38 164.88,369.99 165.34,379.57 165.80,374.53 166.26,375.79 166.71,374.81 167.17,372.66 167.63,371.36 168.09,370.09 168.55,378.71 169.00,364.21 169.46,383.73 169.92,373.36 170.38,367.18 170.84,369.34 171.29,367.92 171.75,374.70 172.21,367.76 172.67,382.72 173.13,367.41 173.58,355.56 174.04,367.98 174.50,357.84 174.96,373.67 175.42,382.55 175.88,379.34 176.33,363.54 176.79,368.22 177.25,388.63 177.71,377.03 178.17,374.60 178.62,383.09 179.08,394.35 179.54,385.18 180.00,376.01 180.46,377.81 180.91,379.99 181.37,370.24 181.83,366.75 182.29,375.72 182.75,367.81 183.20,374.97 183.66,376.32 184.12,394.36 184.58,368.90 185.04,374.82 185.49,374.56 185.95,379.46 186.41,384.41 186.87,372.20 187.33,369.63 187.78,363.16 188.24,368.96 188.70,380.74 189.16,376.90 189.62,368.49 190.07,373.71 190.53,377.03 190.99,380.89 191.45,372.19 191.91,375.02 192.36,362.56 192.82,367.97 193.28,390.21 193.74,359.84 194.20,374.73 194.65,379.27 195.11,374.60 195.57,371.21 196.03,377.27 196.49,377.80 196.94,377.27 197.40,362.98 197.86,376.89 198.32,371.27 198.78,373.79 199.24,380.10 199.69,383.51 200.15,385.66 200.61,374.43 201.07,386.04 201.53,388.16 201.98,387.94 202.44,390.10 202.90,377.60 203.36,377.43 203.82,385.71 204.27,367.72 204.73,380.78 205.19,374.73 205.65,376.12 206.11,364.77 206.56,371.90 207.02,379.21 207.48,386.87 207.94,387.81 208.40,378.90 208.85,378.05 209.31,372.71 209.77,383.17 210.23,377.74 210.69,385.04 211.14,394.85 211.60,379.76 212.06,367.34 212.52,372.81 212.98,367.75 213.43,370.03 213.89,391.58 214.35,382.38 214.81,367.39 215.27,386.21 215.72,391.54 216.18,377.57 216.64,374.88 217.10,377.89 217.56,383.37 218.01,386.55 218.47,391.37 218.93,391.72 219.39,391.57 219.85,393.21 220.31,387.12 220.76,367.82 221.22,380.25 221.68,384.26 222.14,378.14 222.60,389.72 223.05,378.46 223.51,373.47 223.97,394.73 224.43,387.84 224.89,383.91 225.34,390.35 225.80,391.73 226.26,385.38 226.72,360.21 227.18,376.47 227.63,378.60 228.09,373.94 228.55,384.85 229.01,394.07 229.47,378.90 229.92,373.08 230.38,402.25 230.84,379.62 231.30,372.56 231.76,386.26 232.21,388.15 232.67,377.84 233.13,391.85 233.59,380.13 234.05,376.21 234.50,386.62 234.96,392.31 235.42,379.32 235.88,388.50 236.34,384.67 236.79,409.30 237.25,379.16 237.71,399.06 238.17,385.64 238.63,385.08 239.08,393.28 239.54,395.08 240.00,398.79 240.46,390.01 240.92,381.28 241.38,382.02 241.83,392.20 242.29,393.04 242.75,401.06 243.21,391.79 243.67,398.14 244.12,402.72 244.58,389.80 245.04,373.93 245.50,377.03 245.96,374.64 246.41,404.32 246.87,380.66 247.33,401.14 247.79,394.98 248.25,406.22 248.70,399.39 249.16,388.67 249.62,387.85 250.08,390.81 250.54,391.85 250.99,385.00 251.45,390.09 251.91,406.58 252.37,373.74 252.83,393.44 253.28,381.93 253.74,392.92 254.20,399.50 254.66,390.57 255.12,398.93 255.57,375.35 256.03,402.37 256.49,385.31 256.95,397.62 257.41,393.27 257.86,365.64 258.32,383.98 258.78,393.80 259.24,407.18 259.70,394.56 260.15,394.32 260.61,377.66 261.07,406.15 261.53,409.30 261.99,392.22 262.45,389.79 262.90,375.84 263.36,400.92 263.82,409.30 264.28,399.35 264.74,404.87 265.19,397.70 265.65,382.48 266.11,405.74 266.57,380.08 267.03,390.37 267.48,395.31 267.94,401.40 268.40,396.78 268.86,396.54 269.32,385.11 269.77,379.88 270.23,393.43 270.69,385.77 271.15,379.84 271.61,380.31 272.06,388.12 272.52,374.54 272.98,379.64 273.44,376.81 273.90,395.04 274.35,397.34 274.81,409.30 275.27,378.39 275.73,386.61 276.19,402.59 276.64,391.34 277.10,390.29 277.56,409.30 278.02,390.27 278.48,382.14 278.93,380.58 279.39,397.16 279.85,396.90 280.31,380.18 280.77,384.10 281.23,399.35" fill="none" stroke="#e8ab2e" stroke-width="0.8" stroke-linejoin="round" stroke-opacity="0.9"/>
<polyline points="141.75,272.00 142.03,284.24 142.45,304.70 142.87,316.79 143.43,321.60 144.27,334.40 144.73,339.70 145.19,338.90 145.64,335.33 146.10,343.22 146.56,347.77 147.02,351.54 147.48,336.51 147.93,356.61 148.39,341.56 148.85,350.59 149.31,352.14 149.77,351.49 150.22,348.36 150.68,343.16 151.14,351.16 151.60,345.77 152.06,338.31 152.51,361.91 152.97,353.07 153.43,358.34 153.89,346.69 154.35,357.62 154.81,358.57 155.26,358.83 155.72,352.00 156.18,346.88 156.64,351.63 157.10,342.81 157.55,345.22 158.01,353.32 158.47,348.73 158.93,352.52 159.39,352.93 159.84,361.96 160.30,359.35 160.76,353.71 161.22,359.25 161.68,350.89 162.13,352.96 162.59,358.42 163.05,349.47 163.51,353.71 163.97,349.51 164.42,355.70 164.88,362.17 165.34,352.42 165.80,356.64 166.26,352.18 166.71,351.32 167.17,351.15 167.63,362.27 168.09,366.08 168.55,358.63 169.00,353.97 169.46,359.83 169.92,355.79 170.38,360.42 170.84,358.51 171.29,358.57 171.75,359.97 172.21,355.43 172.67,356.23 173.13,351.22 173.58,356.33 174.04,352.66 174.50,357.71 174.96,354.71 175.42,358.89 175.88,360.34 176.33,353.33 176.79,355.76 177.25,355.40 177.71,361.88 178.17,365.59 178.62,362.49 179.08,358.12 179.54,364.97 180.00,354.05 180.46,365.29 180.91,357.47 181.37,349.82 181.83,369.77 182.29,365.95 182.75,356.60 183.20,361.06 183.66,359.79 184.12,361.05 184.58,355.51 185.04,358.49 185.49,362.68 185.95,361.92 186.41,365.47 186.87,361.65 187.33,369.68 187.78,359.11 188.24,362.61 188.70,355.22 189.16,357.64 189.62,366.60 190.07,358.96 190.53,364.09 190.99,362.19 191.45,359.00 191.91,361.46 192.36,361.03 192.82,361.24 193.28,365.47 193.74,365.24 194.20,361.30 194.65,360.35 195.11,364.36 195.57,363.22 196.03,366.99 196.49,372.34 196.94,366.60 197.40,363.89 197.86,363.50 198.32,361.36 198.78,361.25 199.24,360.99 199.69,362.98 200.15,362.93 200.61,366.73 201.07,363.12 201.53,363.81 201.98,360.60 202.44,369.81 202.90,366.22 203.36,370.37 203.82,367.24 204.27,369.51 204.73,363.99 205.19,367.13 205.65,373.55 206.11,361.02 206.56,368.75 207.02,370.47 207.48,366.43 207.94,367.58 208.40,369.28 208.85,363.09 209.31,366.62 209.77,362.49 210.23,363.17 210.69,363.41 211.14,365.01 211.60,366.01 212.06,367.06 212.52,360.98 212.98,372.16 213.43,369.51 213.89,368.15 214.35,364.65 214.81,365.58 215.27,367.72 215.72,367.32 216.18,360.51 216.64,368.50 217.10,375.68 217.56,360.11 218.01,369.48 218.47,367.48 218.93,365.95 219.39,370.87 219.85,362.53 220.31,367.00 220.76,371.32 221.22,365.91 221.68,365.24 222.14,367.04 222.60,365.25 223.05,371.84 223.51,363.82 223.97,369.72 224.43,362.79 224.89,369.15 225.34,366.66 225.80,358.54 226.26,367.05 226.72,363.59 227.18,365.67 227.63,372.23 228.09,363.52 228.55,363.74 229.01,372.00 229.47,367.68 229.92,372.40 230.38,368.43 230.84,364.49 231.30,367.21 231.76,371.51 232.21,370.59 232.67,367.53 233.13,367.72 233.59,367.22 234.05,365.72 234.50,374.01 234.96,367.71 235.42,364.00 235.88,366.19 236.34,370.18 236.79,369.93 237.25,367.40 237.71,365.69 238.17,368.00 238.63,362.45 239.08,363.70 239.54,370.65 240.00,366.47 240.46,369.32 240.92,372.12 241.38,370.29 241.83,368.25 242.29,375.22 242.75,370.44 243.21,367.11 243.67,370.72 244.12,369.69 244.58,365.56 245.04,368.65 245.50,367.90 245.96,362.01 246.41,367.94 246.87,367.61 247.33,367.13 247.79,363.20 248.25,367.47 248.70,368.54 249.16,369.04 249.62,365.00 250.08,370.85 250.54,364.81 250.99,368.10 251.45,373.16 251.91,366.62 252.37,367.26 252.83,372.50 253.28,367.74 253.74,368.04 254.20,369.76 254.66,372.50 255.12,361.82 255.57,366.36 256.03,365.79 256.49,365.55 256.95,366.32 257.41,366.39 257.86,370.15 258.32,366.26 258.78,369.60 259.24,370.53 259.70,366.84 260.15,369.67 260.61,374.63 261.07,370.34 261.53,367.21 261.99,369.10 262.45,366.33 262.90,370.23 263.36,372.18 263.82,366.70 264.28,368.71 264.74,373.05 265.19,367.80 265.65,370.06 266.11,366.11 266.57,366.80 267.03,367.82 267.48,376.47 267.94,368.22 268.40,367.85 268.86,367.76 269.32,369.04 269.77,371.69 270.23,370.21 270.69,376.21 271.15,370.32 271.61,374.29 272.06,370.56 272.52,371.63 272.98,365.09 273.44,369.31 273.90,369.52 274.35,368.98 274.81,362.88 275.27,372.60 275.73,368.56 276.19,368.42 276.64,369.02 277.10,369.12 277.56,371.17 278.02,365.82 278.48,366.92 278.93,370.85 279.39,370.40 279.85,368.75 280.31,368.13 280.77,367.31 281.23,369.81" fill="none" stroke="#72ad35" stroke-width="0.8" stroke-linejoin="round" stroke-opacity="0.9"/>
<polyline points="141.75,265.00 142.03,282.28 142.45,314.64 142.87,329.74 143.43,339.30 144.27,354.78 144.73,347.61 145.19,348.82 145.64,353.42 146.10,358.38 146.56,359.26 147.02,358.73 147.48,362.36 147.93,351.15 148.39,365.40 148.85,355.70 149.31,360.17 149.77,361.95 150.22,358.34 150.68,357.57 151.14,360.00 151.60,366.00 152.06,369.87 152.51,370.22 152.97,361.75 153.43,363.35 153.89,363.03 154.35,371.52 154.81,357.25 155.26,377.22 155.72,367.17 156.18,365.48 156.64,372.52 157.10,377.03 157.55,372.91 158.01,377.62 158.47,371.94 158.93,379.23 159.39,379.58 159.84,370.91 160.30,381.37 160.76,373.01 161.22,372.66 161.68,365.88 162.13,370.38 162.59,378.02 163.05,363.42 163.51,377.53 163.97,375.56 164.42,375.23 164.88,357.16 165.34,372.77 165.80,378.55 166.26,368.11 166.71,374.72 167.17,355.94 167.63,379.56 168.09,369.35 168.55,381.55 169.00,360.22 169.46,380.54 169.92,373.15 170.38,381.62 170.84,367.65 171.29,370.17 171.75,393.56 172.21,368.49 172.67,369.54 173.13,373.11 173.58,366.96 174.04,385.41 174.50,389.97 174.96,369.68 175.42,361.09 175.88,385.61 176.33,385.16 176.79,382.80 177.25,385.74 177.71,368.43 178.17,374.48 178.62,364.00 179.08,363.71 179.54,384.64 180.00,370.25 180.46,396.22 180.91,376.89 181.37,370.61 181.83,383.42 182.29,392.45 182.75,380.78 183.20,365.54 183.66,379.87 184.12,389.03 184.58,372.15 185.04,369.62 185.49,386.03 185.95,378.06 186.41,366.66 186.87,373.36 187.33,369.91 187.78,379.73 188.24,378.04 188.70,387.86 189.16,383.80 189.62,362.40 190.07,381.07 190.53,385.80 190.99,381.67 191.45,387.23 191.91,372.13 192.36,368.29 192.82,386.51 193.28,367.22 193.74,356.58 194.20,387.68 194.65,370.61 195.11,374.75 195.57,364.01 196.03,364.73 196.49,366.41 196.94,374.36 197.40,381.70 197.86,355.06 198.32,385.59 198.78,366.28 199.24,367.47 199.69,384.94 200.15,377.45 200.61,362.87 201.07,396.71 201.53,369.69 201.98,380.80 202.44,380.36 202.90,392.51 203.36,373.87 203.82,388.54 204.27,371.07 204.73,389.75 205.19,370.93 205.65,374.97 206.11,397.58 206.56,381.83 207.02,379.79 207.48,401.14 207.94,382.37 208.40,370.63 208.85,386.17 209.31,367.04 209.77,390.17 210.23,390.98 210.69,373.22 211.14,372.71 211.60,380.78 212.06,379.19 212.52,369.31 212.98,384.80 213.43,358.73 213.89,374.85 214.35,375.18 214.81,376.51 215.27,382.35 215.72,367.03 216.18,385.23 216.64,377.58 217.10,372.91 217.56,365.78 218.01,367.65 218.47,383.11 218.93,369.90 219.39,380.22 219.85,390.23 220.31,389.97 220.76,395.28 221.22,376.74 221.68,368.89 222.14,389.98 222.60,382.90 223.05,391.08 223.51,379.98 223.97,391.86 224.43,388.40 224.89,387.13 225.34,385.04 225.80,384.03 226.26,382.44 226.72,382.42 227.18,390.17 227.63,375.09 228.09,397.83 228.55,379.27 229.01,390.38 229.47,379.53 229.92,377.99 230.38,401.23 230.84,377.44 231.30,367.60 231.76,373.39 232.21,377.49 232.67,402.91 233.13,382.96 233.59,390.51 234.05,370.61 234.50,384.63 234.96,387.98 235.42,399.75 235.88,373.91 236.34,387.45 236.79,384.38 237.25,370.63 237.71,381.13 238.17,378.62 238.63,357.07 239.08,387.76 239.54,387.20 240.00,376.96 240.46,367.51 240.92,397.30 241.38,384.54 241.83,392.54 242.29,396.78 242.75,376.34 243.21,390.56 243.67,379.40 244.12,381.35 244.58,381.15 245.04,382.10 245.50,394.11 245.96,383.54 246.41,380.61 246.87,379.33 247.33,386.04 247.79,372.74 248.25,377.02 248.70,381.94 249.16,376.42 249.62,381.32 250.08,376.01 250.54,404.55 250.99,397.27 251.45,387.72 251.91,382.27 252.37,406.93 252.83,386.50 253.28,382.05 253.74,386.37 254.20,386.43 254.66,398.61 255.12,382.92 255.57,406.26 256.03,373.50 256.49,390.86 256.95,372.24 257.41,403.28 257.86,379.69 258.32,382.72 258.78,393.56 259.24,397.24 259.70,371.23 260.15,379.68 260.61,368.18 261.07,385.07 261.53,382.48 261.99,379.79 262.45,376.13 262.90,379.44 263.36,375.51 263.82,389.57 264.28,400.46 264.74,362.58 265.19,382.58 265.65,379.29 266.11,389.33 266.57,373.48 267.03,382.37 267.48,372.58 267.94,391.71 268.40,385.17 268.86,382.34 269.32,388.22 269.77,381.47 270.23,367.12 270.69,390.80 271.15,387.45 271.61,382.62 272.06,395.18 272.52,397.78 272.98,372.39 273.44,375.85 273.90,401.50 274.35,400.12 274.81,376.42 275.27,371.59 275.73,377.59 276.19,379.16 276.64,367.25 277.10,385.05 277.56,370.66 278.02,371.46 278.48,394.88 278.93,377.32 279.39,384.08 279.85,391.82 280.31,393.88 280.77,381.26 281.23,385.49" fill="none" stroke="#6a9de0" stroke-width="0.8800000000000001" stroke-linejoin="round" stroke-opacity="0.78"/>
<polyline points="141.75,279.00 142.03,290.87 142.45,307.31 142.87,314.57 143.43,325.51 144.27,335.42 144.73,337.69 145.19,345.00 145.64,346.64 146.10,340.22 146.56,341.95 147.02,337.75 147.48,343.47 147.93,343.26 148.39,353.05 148.85,343.35 149.31,335.01 149.77,340.62 150.22,343.84 150.68,338.50 151.14,340.16 151.60,342.32 152.06,345.38 152.51,343.41 152.97,340.46 153.43,347.76 153.89,342.18 154.35,342.47 154.81,338.68 155.26,341.42 155.72,347.96 156.18,337.79 156.64,344.79 157.10,348.38 157.55,343.49 158.01,346.31 158.47,340.24 158.93,351.21 159.39,350.31 159.84,346.45 160.30,337.54 160.76,340.77 161.22,349.91 161.68,353.27 162.13,346.93 162.59,351.25 163.05,342.94 163.51,344.87 163.97,345.77 164.42,347.71 164.88,338.96 165.34,350.12 165.80,351.88 166.26,340.80 166.71,339.93 167.17,347.70 167.63,343.33 168.09,335.89 168.55,350.00 169.00,347.24 169.46,344.61 169.92,355.88 170.38,347.49 170.84,343.80 171.29,347.54 171.75,342.86 172.21,344.16 172.67,349.04 173.13,345.27 173.58,345.82 174.04,354.54 174.50,351.34 174.96,351.20 175.42,350.47 175.88,350.71 176.33,354.85 176.79,349.62 177.25,357.06 177.71,347.07 178.17,350.08 178.62,346.52 179.08,350.67 179.54,354.11 180.00,357.70 180.46,350.97 180.91,353.65 181.37,352.90 181.83,352.15 182.29,351.21 182.75,355.56 183.20,350.58 183.66,356.52 184.12,356.58 184.58,354.96 185.04,354.34 185.49,353.69 185.95,362.87 186.41,354.61 186.87,362.51 187.33,360.33 187.78,358.24 188.24,356.66 188.70,362.26 189.16,364.12 189.62,358.34 190.07,360.12 190.53,363.36 190.99,362.13 191.45,365.84 191.91,360.91 192.36,363.28 192.82,359.93 193.28,366.59 193.74,361.30 194.20,358.69 194.65,362.79 195.11,362.93 195.57,366.86 196.03,362.91 196.49,363.66 196.94,364.90 197.40,366.78 197.86,364.06 198.32,366.11 198.78,365.38 199.24,364.17 199.69,364.96 200.15,365.04 200.61,363.69 201.07,367.24 201.53,363.32 201.98,367.46 202.44,367.27 202.90,365.84 203.36,364.93 203.82,365.82 204.27,366.93 204.73,367.40 205.19,366.81 205.65,367.91 206.11,365.76 206.56,366.98 207.02,364.52 207.48,367.88 207.94,367.10 208.40,366.40 208.85,368.64 209.31,368.07 209.77,363.42 210.23,367.35 210.69,365.45 211.14,368.87 211.60,370.80 212.06,366.95 212.52,367.80 212.98,367.47 213.43,368.32 213.89,368.76 214.35,369.64 214.81,366.90 215.27,370.13 215.72,367.15 216.18,368.70 216.64,369.83 217.10,369.37 217.56,367.51 218.01,367.88 218.47,368.24 218.93,368.80 219.39,370.24 219.85,367.57 220.31,369.62 220.76,369.86 221.22,369.88 221.68,369.85 222.14,371.06 222.60,370.03 223.05,370.49 223.51,370.26 223.97,371.60 224.43,367.90 224.89,371.22 225.34,369.74 225.80,369.75 226.26,369.10 226.72,368.24 227.18,369.75 227.63,369.48 228.09,370.69 228.55,368.78 229.01,371.68 229.47,370.56 229.92,370.09 230.38,369.67 230.84,369.62 231.30,369.32 231.76,369.93 232.21,370.50 232.67,370.35 233.13,369.18 233.59,370.33 234.05,369.76 234.50,370.81 234.96,372.49 235.42,371.32 235.88,370.45 236.34,369.23 236.79,369.46 237.25,369.24 237.71,371.58 238.17,370.19 238.63,371.01 239.08,370.39 239.54,371.10 240.00,372.38 240.46,370.44 240.92,370.79 241.38,370.39 241.83,372.00 242.29,370.25 242.75,370.18 243.21,369.98 243.67,370.00 244.12,371.78 244.58,373.77 245.04,370.49 245.50,372.33 245.96,371.71 246.41,370.49 246.87,371.29 247.33,371.36 247.79,370.97 248.25,373.41 248.70,369.93 249.16,372.05 249.62,372.04 250.08,371.24 250.54,371.94 250.99,372.63 251.45,372.01 251.91,372.28 252.37,372.56 252.83,370.14 253.28,373.33 253.74,374.08 254.20,372.95 254.66,373.01 255.12,370.87 255.57,372.06 256.03,371.47 256.49,371.71 256.95,373.12 257.41,371.58 257.86,372.21 258.32,370.68 258.78,372.25 259.24,372.51 259.70,371.84 260.15,371.86 260.61,374.17 261.07,371.50 261.53,371.68 261.99,371.92 262.45,373.70 262.90,374.51 263.36,373.01 263.82,372.14 264.28,372.42 264.74,373.73 265.19,372.07 265.65,374.13 266.11,374.13 266.57,373.01 267.03,373.53 267.48,373.65 267.94,374.37 268.40,372.19 268.86,374.11 269.32,372.83 269.77,372.53 270.23,373.30 270.69,373.07 271.15,372.45 271.61,371.98 272.06,372.56 272.52,374.58 272.98,375.04 273.44,373.98 273.90,374.46 274.35,373.08 274.81,373.48 275.27,373.81 275.73,372.72 276.19,372.83 276.64,373.75 277.10,373.44 277.56,372.87 278.02,374.08 278.48,373.59 278.93,374.66 279.39,373.86 279.85,373.66 280.31,374.04 280.77,373.83 281.23,373.47" fill="none" stroke="#6e2a8a" stroke-width="1.1" stroke-linejoin="round" stroke-opacity="1.0"/>
<rect x="127.5" y="239" width="167.7" height="170.8" fill="none" stroke="#8e8e8e" stroke-width="0.9"/>
<line x1="141.47" y1="409.8" x2="141.47" y2="407.8" stroke="#8e8e8e" stroke-width="0.8"/>
<line x1="141.47" y1="239" x2="141.47" y2="241" stroke="#8e8e8e" stroke-width="0.8"/>
<line x1="169.43" y1="409.8" x2="169.43" y2="407.8" stroke="#8e8e8e" stroke-width="0.8"/>
<line x1="169.43" y1="239" x2="169.43" y2="241" stroke="#8e8e8e" stroke-width="0.8"/>
<line x1="197.38" y1="409.8" x2="197.38" y2="407.8" stroke="#8e8e8e" stroke-width="0.8"/>
<line x1="197.38" y1="239" x2="197.38" y2="241" stroke="#8e8e8e" stroke-width="0.8"/>
<line x1="225.32" y1="409.8" x2="225.32" y2="407.8" stroke="#8e8e8e" stroke-width="0.8"/>
<line x1="225.32" y1="239" x2="225.32" y2="241" stroke="#8e8e8e" stroke-width="0.8"/>
<line x1="253.27" y1="409.8" x2="253.27" y2="407.8" stroke="#8e8e8e" stroke-width="0.8"/>
<line x1="253.27" y1="239" x2="253.27" y2="241" stroke="#8e8e8e" stroke-width="0.8"/>
<line x1="281.23" y1="409.8" x2="281.23" y2="407.8" stroke="#8e8e8e" stroke-width="0.8"/>
<line x1="281.23" y1="239" x2="281.23" y2="241" stroke="#8e8e8e" stroke-width="0.8"/>
<line x1="127.5" y1="239" x2="129.5" y2="239" stroke="#8e8e8e" stroke-width="0.8"/>
<line x1="295.2" y1="239" x2="293.2" y2="239" stroke="#8e8e8e" stroke-width="0.8"/>
<line x1="127.5" y1="309.5" x2="129.5" y2="309.5" stroke="#8e8e8e" stroke-width="0.8"/>
<line x1="295.2" y1="309.5" x2="293.2" y2="309.5" stroke="#8e8e8e" stroke-width="0.8"/>
<line x1="127.5" y1="380" x2="129.5" y2="380" stroke="#8e8e8e" stroke-width="0.8"/>
<line x1="295.2" y1="380" x2="293.2" y2="380" stroke="#8e8e8e" stroke-width="0.8"/>
<line x1="127.5" y1="408.05" x2="128.9" y2="408.05" stroke="#666" stroke-width="0.8"/>
<line x1="295.2" y1="408.05" x2="293.8" y2="408.05" stroke="#666" stroke-width="0.8"/>
<line x1="127.5" y1="401.22" x2="128.9" y2="401.22" stroke="#666" stroke-width="0.8"/>
<line x1="295.2" y1="401.22" x2="293.8" y2="401.22" stroke="#666" stroke-width="0.8"/>
<line x1="127.5" y1="395.64" x2="128.9" y2="395.64" stroke="#666" stroke-width="0.8"/>
<line x1="295.2" y1="395.64" x2="293.8" y2="395.64" stroke="#666" stroke-width="0.8"/>
<line x1="127.5" y1="390.92" x2="128.9" y2="390.92" stroke="#666" stroke-width="0.8"/>
<line x1="295.2" y1="390.92" x2="293.8" y2="390.92" stroke="#666" stroke-width="0.8"/>
<line x1="127.5" y1="386.83" x2="128.9" y2="386.83" stroke="#666" stroke-width="0.8"/>
<line x1="295.2" y1="386.83" x2="293.8" y2="386.83" stroke="#666" stroke-width="0.8"/>
<line x1="127.5" y1="383.23" x2="128.9" y2="383.23" stroke="#666" stroke-width="0.8"/>
<line x1="295.2" y1="383.23" x2="293.8" y2="383.23" stroke="#666" stroke-width="0.8"/>
<line x1="127.5" y1="358.78" x2="128.9" y2="358.78" stroke="#666" stroke-width="0.8"/>
<line x1="295.2" y1="358.78" x2="293.8" y2="358.78" stroke="#666" stroke-width="0.8"/>
<line x1="127.5" y1="346.36" x2="128.9" y2="346.36" stroke="#666" stroke-width="0.8"/>
<line x1="295.2" y1="346.36" x2="293.8" y2="346.36" stroke="#666" stroke-width="0.8"/>
<line x1="127.5" y1="337.55" x2="128.9" y2="337.55" stroke="#666" stroke-width="0.8"/>
<line x1="295.2" y1="337.55" x2="293.8" y2="337.55" stroke="#666" stroke-width="0.8"/>
<line x1="127.5" y1="330.72" x2="128.9" y2="330.72" stroke="#666" stroke-width="0.8"/>
<line x1="295.2" y1="330.72" x2="293.8" y2="330.72" stroke="#666" stroke-width="0.8"/>
<line x1="127.5" y1="325.14" x2="128.9" y2="325.14" stroke="#666" stroke-width="0.8"/>
<line x1="295.2" y1="325.14" x2="293.8" y2="325.14" stroke="#666" stroke-width="0.8"/>
<line x1="127.5" y1="320.42" x2="128.9" y2="320.42" stroke="#666" stroke-width="0.8"/>
<line x1="295.2" y1="320.42" x2="293.8" y2="320.42" stroke="#666" stroke-width="0.8"/>
<line x1="127.5" y1="316.33" x2="128.9" y2="316.33" stroke="#666" stroke-width="0.8"/>
<line x1="295.2" y1="316.33" x2="293.8" y2="316.33" stroke="#666" stroke-width="0.8"/>
<line x1="127.5" y1="312.73" x2="128.9" y2="312.73" stroke="#666" stroke-width="0.8"/>
<line x1="295.2" y1="312.73" x2="293.8" y2="312.73" stroke="#666" stroke-width="0.8"/>
<line x1="127.5" y1="288.28" x2="128.9" y2="288.28" stroke="#666" stroke-width="0.8"/>
<line x1="295.2" y1="288.28" x2="293.8" y2="288.28" stroke="#666" stroke-width="0.8"/>
<line x1="127.5" y1="275.86" x2="128.9" y2="275.86" stroke="#666" stroke-width="0.8"/>
<line x1="295.2" y1="275.86" x2="293.8" y2="275.86" stroke="#666" stroke-width="0.8"/>
<line x1="127.5" y1="267.05" x2="128.9" y2="267.05" stroke="#666" stroke-width="0.8"/>
<line x1="295.2" y1="267.05" x2="293.8" y2="267.05" stroke="#666" stroke-width="0.8"/>
<line x1="127.5" y1="260.22" x2="128.9" y2="260.22" stroke="#666" stroke-width="0.8"/>
<line x1="295.2" y1="260.22" x2="293.8" y2="260.22" stroke="#666" stroke-width="0.8"/>
<line x1="127.5" y1="254.64" x2="128.9" y2="254.64" stroke="#666" stroke-width="0.8"/>
<line x1="295.2" y1="254.64" x2="293.8" y2="254.64" stroke="#666" stroke-width="0.8"/>
<line x1="127.5" y1="249.92" x2="128.9" y2="249.92" stroke="#666" stroke-width="0.8"/>
<line x1="295.2" y1="249.92" x2="293.8" y2="249.92" stroke="#666" stroke-width="0.8"/>
<line x1="127.5" y1="245.83" x2="128.9" y2="245.83" stroke="#666" stroke-width="0.8"/>
<line x1="295.2" y1="245.83" x2="293.8" y2="245.83" stroke="#666" stroke-width="0.8"/>
<line x1="127.5" y1="242.23" x2="128.9" y2="242.23" stroke="#666" stroke-width="0.8"/>
<line x1="295.2" y1="242.23" x2="293.8" y2="242.23" stroke="#666" stroke-width="0.8"/>
<text x="124.6" y="238.5" font-size="5.2" text-anchor="end" fill="#333333" color="#333333">0</text>
<text x="121.01" y="242.4" font-size="7.1" text-anchor="end" fill="#333333" color="#333333">10</text>
<text x="123.6" y="309" font-size="5.2" text-anchor="end" fill="#333333" color="#333333">-1</text>
<text x="117.98" y="312.9" font-size="7.1" text-anchor="end" fill="#333333" color="#333333">10</text>
<text x="123.6" y="379.5" font-size="5.2" text-anchor="end" fill="#333333" color="#333333">-2</text>
<text x="117.98" y="383.4" font-size="7.1" text-anchor="end" fill="#333333" color="#333333">10</text>
<text x="141.47" y="420" font-size="7.1" text-anchor="middle" fill="#333333" color="#333333" >0</text>
<text x="169.43" y="420" font-size="7.1" text-anchor="middle" fill="#333333" color="#333333" >1</text>
<text x="197.38" y="420" font-size="7.1" text-anchor="middle" fill="#333333" color="#333333" >2</text>
<text x="225.32" y="420" font-size="7.1" text-anchor="middle" fill="#333333" color="#333333" >3</text>
<text x="253.27" y="420" font-size="7.1" text-anchor="middle" fill="#333333" color="#333333" >4</text>
<text x="281.23" y="420" font-size="7.1" text-anchor="middle" fill="#333333" color="#333333" >5</text>
<text x="209" y="430" font-size="7.8" text-anchor="middle" fill="#333333" color="#333333" >Coincidences</text>
<text x="104.6" y="324.3" font-size="7.8" fill="#333333" color="#333333" text-anchor="middle" transform="rotate(-90 104.6 324.3)">MRE</text>
<text x="279.5" y="432.5" font-size="8.40" text-anchor="middle" fill="#333333" color="#333333">×</text>
<text x="282.8" y="431.4" font-size="7.0" fill="#333333" color="#333333">10</text>
<text x="291.8" y="428.1" font-size="4.90" fill="#333333" color="#333333">5</text>
<rect x="223.8" y="247.9" width="59" height="39.2" fill="#fff" stroke="#8e8e8e" stroke-width="0.8"/>
<line x1="223.8" y1="256.9" x2="282.8" y2="256.9" stroke="#8e8e8e" stroke-width="0.8"/>
<text x="226.1" y="254.3" font-size="5.75" font-weight="bold" fill="#111" color="#111">Thresholds (keV)</text>
<line x1="235.4" y1="261.4" x2="256.6" y2="261.4" stroke="#e8ab2e" stroke-width="1.0" stroke-opacity="0.75"/>
<text x="258.1" y="263.6" font-size="6.2" fill="#222" color="#222">400</text>
<line x1="235.4" y1="268.6" x2="256.6" y2="268.6" stroke="#72ad35" stroke-width="1.0" stroke-opacity="0.75"/>
<text x="258.1" y="270.8" font-size="6.2" fill="#222" color="#222">450</text>
<line x1="235.4" y1="275.6" x2="256.6" y2="275.6" stroke="#6a9de0" stroke-width="1.0" stroke-opacity="0.75"/>
<text x="258.1" y="277.8" font-size="6.2" fill="#222" color="#222">475</text>
<line x1="235.4" y1="282.8" x2="256.6" y2="282.8" stroke="#6e2a8a" stroke-width="1.0" stroke-opacity="0.75"/>
<text x="258.1" y="285" font-size="6.2" fill="#222" color="#222">EW3</text>
<line x1="337.81" y1="238.7" x2="337.81" y2="409.7" stroke="#d6d6d6" stroke-width="0.5" stroke-dasharray="0.6 1.6"/>
<line x1="343.42" y1="238.7" x2="343.42" y2="409.7" stroke="#d6d6d6" stroke-width="0.5" stroke-dasharray="0.6 1.6"/>
<line x1="354.65" y1="238.7" x2="354.65" y2="409.7" stroke="#d6d6d6" stroke-width="0.5" stroke-dasharray="0.6 1.6"/>
<line x1="360.26" y1="238.7" x2="360.26" y2="409.7" stroke="#d6d6d6" stroke-width="0.5" stroke-dasharray="0.6 1.6"/>
<line x1="365.87" y1="238.7" x2="365.87" y2="409.7" stroke="#d6d6d6" stroke-width="0.5" stroke-dasharray="0.6 1.6"/>
<line x1="371.49" y1="238.7" x2="371.49" y2="409.7" stroke="#d6d6d6" stroke-width="0.5" stroke-dasharray="0.6 1.6"/>
<line x1="382.71" y1="238.7" x2="382.71" y2="409.7" stroke="#d6d6d6" stroke-width="0.5" stroke-dasharray="0.6 1.6"/>
<line x1="388.33" y1="238.7" x2="388.33" y2="409.7" stroke="#d6d6d6" stroke-width="0.5" stroke-dasharray="0.6 1.6"/>
<line x1="393.94" y1="238.7" x2="393.94" y2="409.7" stroke="#d6d6d6" stroke-width="0.5" stroke-dasharray="0.6 1.6"/>
<line x1="399.55" y1="238.7" x2="399.55" y2="409.7" stroke="#d6d6d6" stroke-width="0.5" stroke-dasharray="0.6 1.6"/>
<line x1="410.78" y1="238.7" x2="410.78" y2="409.7" stroke="#d6d6d6" stroke-width="0.5" stroke-dasharray="0.6 1.6"/>
<line x1="416.39" y1="238.7" x2="416.39" y2="409.7" stroke="#d6d6d6" stroke-width="0.5" stroke-dasharray="0.6 1.6"/>
<line x1="422.01" y1="238.7" x2="422.01" y2="409.7" stroke="#d6d6d6" stroke-width="0.5" stroke-dasharray="0.6 1.6"/>
<line x1="427.62" y1="238.7" x2="427.62" y2="409.7" stroke="#d6d6d6" stroke-width="0.5" stroke-dasharray="0.6 1.6"/>
<line x1="438.85" y1="238.7" x2="438.85" y2="409.7" stroke="#d6d6d6" stroke-width="0.5" stroke-dasharray="0.6 1.6"/>
<line x1="444.46" y1="238.7" x2="444.46" y2="409.7" stroke="#d6d6d6" stroke-width="0.5" stroke-dasharray="0.6 1.6"/>
<line x1="450.07" y1="238.7" x2="450.07" y2="409.7" stroke="#d6d6d6" stroke-width="0.5" stroke-dasharray="0.6 1.6"/>
<line x1="455.69" y1="238.7" x2="455.69" y2="409.7" stroke="#d6d6d6" stroke-width="0.5" stroke-dasharray="0.6 1.6"/>
<line x1="466.91" y1="238.7" x2="466.91" y2="409.7" stroke="#d6d6d6" stroke-width="0.5" stroke-dasharray="0.6 1.6"/>
<line x1="472.53" y1="238.7" x2="472.53" y2="409.7" stroke="#d6d6d6" stroke-width="0.5" stroke-dasharray="0.6 1.6"/>
<line x1="478.14" y1="238.7" x2="478.14" y2="409.7" stroke="#d6d6d6" stroke-width="0.5" stroke-dasharray="0.6 1.6"/>
<line x1="483.75" y1="238.7" x2="483.75" y2="409.7" stroke="#d6d6d6" stroke-width="0.5" stroke-dasharray="0.6 1.6"/>
<line x1="494.98" y1="238.7" x2="494.98" y2="409.7" stroke="#d6d6d6" stroke-width="0.5" stroke-dasharray="0.6 1.6"/>
<line x1="500.59" y1="238.7" x2="500.59" y2="409.7" stroke="#d6d6d6" stroke-width="0.5" stroke-dasharray="0.6 1.6"/>
<line x1="335" y1="392.54" x2="503.4" y2="392.54" stroke="#d6d6d6" stroke-width="0.5" stroke-dasharray="0.6 1.6"/>
<line x1="335" y1="382.5" x2="503.4" y2="382.5" stroke="#d6d6d6" stroke-width="0.5" stroke-dasharray="0.6 1.6"/>
<line x1="335" y1="375.38" x2="503.4" y2="375.38" stroke="#d6d6d6" stroke-width="0.5" stroke-dasharray="0.6 1.6"/>
<line x1="335" y1="369.86" x2="503.4" y2="369.86" stroke="#d6d6d6" stroke-width="0.5" stroke-dasharray="0.6 1.6"/>
<line x1="335" y1="365.35" x2="503.4" y2="365.35" stroke="#d6d6d6" stroke-width="0.5" stroke-dasharray="0.6 1.6"/>
<line x1="335" y1="361.53" x2="503.4" y2="361.53" stroke="#d6d6d6" stroke-width="0.5" stroke-dasharray="0.6 1.6"/>
<line x1="335" y1="358.22" x2="503.4" y2="358.22" stroke="#d6d6d6" stroke-width="0.5" stroke-dasharray="0.6 1.6"/>
<line x1="335" y1="355.31" x2="503.4" y2="355.31" stroke="#d6d6d6" stroke-width="0.5" stroke-dasharray="0.6 1.6"/>
<line x1="335" y1="335.54" x2="503.4" y2="335.54" stroke="#d6d6d6" stroke-width="0.5" stroke-dasharray="0.6 1.6"/>
<line x1="335" y1="325.5" x2="503.4" y2="325.5" stroke="#d6d6d6" stroke-width="0.5" stroke-dasharray="0.6 1.6"/>
<line x1="335" y1="318.38" x2="503.4" y2="318.38" stroke="#d6d6d6" stroke-width="0.5" stroke-dasharray="0.6 1.6"/>
<line x1="335" y1="312.86" x2="503.4" y2="312.86" stroke="#d6d6d6" stroke-width="0.5" stroke-dasharray="0.6 1.6"/>
<line x1="335" y1="308.35" x2="503.4" y2="308.35" stroke="#d6d6d6" stroke-width="0.5" stroke-dasharray="0.6 1.6"/>
<line x1="335" y1="304.53" x2="503.4" y2="304.53" stroke="#d6d6d6" stroke-width="0.5" stroke-dasharray="0.6 1.6"/>
<line x1="335" y1="301.22" x2="503.4" y2="301.22" stroke="#d6d6d6" stroke-width="0.5" stroke-dasharray="0.6 1.6"/>
<line x1="335" y1="298.31" x2="503.4" y2="298.31" stroke="#d6d6d6" stroke-width="0.5" stroke-dasharray="0.6 1.6"/>
<line x1="335" y1="278.54" x2="503.4" y2="278.54" stroke="#d6d6d6" stroke-width="0.5" stroke-dasharray="0.6 1.6"/>
<line x1="335" y1="268.5" x2="503.4" y2="268.5" stroke="#d6d6d6" stroke-width="0.5" stroke-dasharray="0.6 1.6"/>
<line x1="335" y1="261.38" x2="503.4" y2="261.38" stroke="#d6d6d6" stroke-width="0.5" stroke-dasharray="0.6 1.6"/>
<line x1="335" y1="255.86" x2="503.4" y2="255.86" stroke="#d6d6d6" stroke-width="0.5" stroke-dasharray="0.6 1.6"/>
<line x1="335" y1="251.35" x2="503.4" y2="251.35" stroke="#d6d6d6" stroke-width="0.5" stroke-dasharray="0.6 1.6"/>
<line x1="335" y1="247.53" x2="503.4" y2="247.53" stroke="#d6d6d6" stroke-width="0.5" stroke-dasharray="0.6 1.6"/>
<line x1="335" y1="244.22" x2="503.4" y2="244.22" stroke="#d6d6d6" stroke-width="0.5" stroke-dasharray="0.6 1.6"/>
<line x1="335" y1="241.31" x2="503.4" y2="241.31" stroke="#d6d6d6" stroke-width="0.5" stroke-dasharray="0.6 1.6"/>
<line x1="349.03" y1="238.7" x2="349.03" y2="409.7" stroke="#e8e8e8" stroke-width="0.95"/>
<line x1="377.1" y1="238.7" x2="377.1" y2="409.7" stroke="#e8e8e8" stroke-width="0.95"/>
<line x1="405.17" y1="238.7" x2="405.17" y2="409.7" stroke="#e8e8e8" stroke-width="0.95"/>
<line x1="433.23" y1="238.7" x2="433.23" y2="409.7" stroke="#e8e8e8" stroke-width="0.95"/>
<line x1="461.3" y1="238.7" x2="461.3" y2="409.7" stroke="#e8e8e8" stroke-width="0.95"/>
<line x1="489.37" y1="238.7" x2="489.37" y2="409.7" stroke="#e8e8e8" stroke-width="0.95"/>
<line x1="335" y1="295.7" x2="503.4" y2="295.7" stroke="#e8e8e8" stroke-width="0.95"/>
<line x1="335" y1="352.7" x2="503.4" y2="352.7" stroke="#e8e8e8" stroke-width="0.95"/>
<polyline points="349.31,262.00 349.59,277.08 350.02,299.45 350.44,315.93 351.00,318.90 351.84,334.03 352.30,336.88 352.76,342.62 353.22,342.59 353.68,342.81 354.14,349.81 354.60,347.16 355.06,340.62 355.52,354.07 355.98,352.77 356.44,344.87 356.90,352.82 357.36,344.79 357.82,355.35 358.28,348.41 358.74,345.57 359.20,348.37 359.66,346.55 360.12,352.39 360.58,352.73 361.04,352.35 361.50,349.31 361.96,331.43 362.42,353.96 362.88,342.49 363.34,355.53 363.80,360.97 364.26,355.91 364.72,351.99 365.18,353.36 365.64,353.74 366.10,351.29 366.56,351.17 367.02,349.17 367.48,362.26 367.94,354.95 368.40,361.06 368.86,353.69 369.32,355.79 369.78,354.37 370.24,358.43 370.70,360.82 371.16,357.24 371.62,351.58 372.08,351.00 372.54,366.54 373.00,354.34 373.46,354.37 373.92,365.68 374.38,363.38 374.84,359.94 375.30,354.04 375.76,371.90 376.22,359.35 376.68,360.46 377.14,355.88 377.60,347.76 378.06,348.23 378.52,359.42 378.98,359.25 379.44,355.13 379.90,349.10 380.36,347.33 380.82,354.38 381.28,347.16 381.74,362.03 382.20,363.56 382.66,374.04 383.12,361.66 383.58,352.36 384.04,350.56 384.50,334.42 384.96,352.18 385.42,354.72 385.88,361.74 386.34,359.46 386.80,359.24 387.26,356.86 387.72,359.53 388.18,364.26 388.64,348.87 389.10,352.51 389.56,346.82 390.02,364.94 390.48,362.91 390.94,359.55 391.40,347.82 391.86,356.06 392.32,353.63 392.78,355.54 393.24,353.95 393.70,358.21 394.16,352.74 394.62,360.25 395.08,356.59 395.54,353.40 396.00,354.50 396.46,352.55 396.92,360.09 397.38,353.59 397.84,357.01 398.30,352.90 398.76,346.36 399.22,360.72 399.68,348.96 400.14,359.40 400.60,357.86 401.06,345.42 401.52,349.70 401.98,352.30 402.44,350.48 402.90,348.33 403.36,359.88 403.81,354.01 404.27,357.78 404.73,352.90 405.19,357.33 405.65,351.01 406.11,355.37 406.57,359.04 407.03,355.84 407.49,352.84 407.95,349.08 408.41,356.62 408.87,357.70 409.33,354.10 409.79,351.05 410.25,358.94 410.71,370.59 411.17,353.90 411.63,357.75 412.09,358.01 412.55,340.36 413.01,356.52 413.47,351.56 413.93,364.12 414.39,354.30 414.85,351.18 415.31,354.55 415.77,356.88 416.23,352.53 416.69,355.59 417.15,347.80 417.61,354.59 418.07,360.61 418.53,367.79 418.99,360.23 419.45,357.67 419.91,363.20 420.37,362.28 420.83,366.22 421.29,362.79 421.75,355.66 422.21,357.98 422.67,357.57 423.13,358.37 423.59,357.83 424.05,352.00 424.51,344.14 424.97,352.79 425.43,344.73 425.89,357.36 426.35,357.05 426.81,347.03 427.27,361.28 427.73,362.42 428.19,357.86 428.65,367.35 429.11,368.64 429.57,350.24 430.03,363.76 430.49,360.25 430.95,360.18 431.41,363.35 431.87,353.49 432.33,354.32 432.79,352.98 433.25,353.47 433.71,357.48 434.17,349.42 434.63,351.92 435.09,361.73 435.55,357.90 436.01,360.69 436.47,347.13 436.93,353.82 437.39,355.26 437.85,358.85 438.31,355.21 438.77,364.39 439.23,358.51 439.69,359.02 440.15,359.07 440.61,363.30 441.07,356.29 441.53,365.92 441.99,362.01 442.45,360.24 442.91,359.63 443.37,362.57 443.83,365.60 444.29,365.25 444.75,361.90 445.21,364.97 445.67,360.48 446.13,367.35 446.59,359.74 447.05,347.52 447.51,368.08 447.97,360.80 448.43,353.22 448.89,359.16 449.35,355.14 449.81,373.15 450.27,363.63 450.73,351.33 451.19,364.12 451.65,358.54 452.11,372.54 452.57,354.82 453.03,347.75 453.49,361.73 453.95,359.34 454.41,359.03 454.87,348.78 455.33,364.28 455.79,371.86 456.25,350.47 456.71,369.05 457.17,358.70 457.63,376.31 458.09,364.93 458.55,361.28 459.01,369.14 459.47,365.76 459.93,359.15 460.39,367.07 460.85,359.84 461.31,352.27 461.77,375.29 462.23,361.10 462.69,359.64 463.15,365.43 463.61,354.14 464.07,355.47 464.53,360.69 464.99,360.67 465.45,364.32 465.91,370.72 466.37,361.24 466.83,367.14 467.29,367.89 467.75,357.87 468.21,365.85 468.67,358.92 469.13,371.06 469.59,367.50 470.05,364.97 470.51,356.93 470.97,365.76 471.43,360.56 471.89,369.50 472.35,364.65 472.81,360.59 473.27,371.11 473.73,369.99 474.19,362.20 474.65,372.83 475.11,364.16 475.57,364.18 476.03,366.84 476.49,361.65 476.95,363.58 477.41,365.33 477.87,375.54 478.33,375.42 478.79,364.94 479.25,376.22 479.71,366.36 480.17,368.97 480.63,372.06 481.09,368.57 481.55,381.38 482.01,368.41 482.47,359.83 482.93,374.92 483.39,364.68 483.85,365.39 484.31,349.33 484.77,373.35 485.23,372.32 485.69,372.27 486.15,373.41 486.61,377.75 487.07,367.40 487.53,373.36 487.99,363.34 488.45,365.75 488.91,374.28 489.37,370.35" fill="none" stroke="#e8b455" stroke-width="0.76" stroke-linejoin="round" stroke-opacity="0.9"/>
<polyline points="349.31,270.00 349.59,280.24 350.02,294.70 350.44,302.26 351.00,313.03 351.84,317.79 352.30,316.86 352.76,320.34 353.22,331.18 353.68,321.87 354.14,327.59 354.60,329.25 355.06,329.83 355.52,324.50 355.98,327.78 356.44,329.70 356.90,332.27 357.36,328.12 357.82,326.90 358.28,334.39 358.74,335.22 359.20,333.29 359.66,330.51 360.12,334.36 360.58,333.84 361.04,336.78 361.50,330.13 361.96,335.27 362.42,334.79 362.88,331.94 363.34,336.79 363.80,336.23 364.26,334.73 364.72,337.62 365.18,331.34 365.64,336.18 366.10,337.94 366.56,337.49 367.02,340.33 367.48,332.42 367.94,331.42 368.40,337.60 368.86,338.42 369.32,344.31 369.78,339.11 370.24,333.96 370.70,339.91 371.16,334.19 371.62,332.02 372.08,346.42 372.54,338.49 373.00,339.92 373.46,339.45 373.92,343.89 374.38,338.61 374.84,341.94 375.30,334.15 375.76,332.94 376.22,342.87 376.68,343.10 377.14,339.79 377.60,338.84 378.06,338.68 378.52,335.76 378.98,343.53 379.44,340.53 379.90,340.04 380.36,339.64 380.82,342.00 381.28,340.18 381.74,341.04 382.20,334.56 382.66,340.33 383.12,346.06 383.58,336.94 384.04,338.31 384.50,341.79 384.96,342.06 385.42,340.98 385.88,333.53 386.34,340.66 386.80,335.10 387.26,336.35 387.72,340.95 388.18,338.21 388.64,341.90 389.10,349.63 389.56,341.88 390.02,341.74 390.48,336.51 390.94,337.39 391.40,336.08 391.86,337.85 392.32,336.10 392.78,337.55 393.24,339.05 393.70,336.57 394.16,335.29 394.62,335.53 395.08,341.36 395.54,340.16 396.00,343.27 396.46,343.36 396.92,339.05 397.38,342.27 397.84,335.71 398.30,347.39 398.76,344.04 399.22,339.70 399.68,336.81 400.14,341.64 400.60,334.75 401.06,338.17 401.52,342.90 401.98,340.89 402.44,339.21 402.90,343.65 403.36,337.66 403.81,341.72 404.27,339.40 404.73,338.41 405.19,342.39 405.65,338.06 406.11,346.77 406.57,339.35 407.03,347.10 407.49,337.88 407.95,343.02 408.41,337.63 408.87,337.24 409.33,341.78 409.79,343.36 410.25,337.54 410.71,344.95 411.17,339.04 411.63,341.85 412.09,342.63 412.55,343.31 413.01,336.17 413.47,346.45 413.93,343.31 414.39,340.38 414.85,338.62 415.31,336.64 415.77,337.67 416.23,343.42 416.69,340.80 417.15,338.46 417.61,340.31 418.07,346.61 418.53,340.96 418.99,340.23 419.45,346.07 419.91,343.44 420.37,342.22 420.83,340.29 421.29,337.49 421.75,338.67 422.21,340.77 422.67,341.59 423.13,343.35 423.59,343.97 424.05,343.01 424.51,343.04 424.97,339.39 425.43,335.98 425.89,340.91 426.35,339.65 426.81,340.58 427.27,341.75 427.73,338.88 428.19,339.31 428.65,342.37 429.11,343.05 429.57,340.77 430.03,344.27 430.49,342.15 430.95,339.78 431.41,342.99 431.87,348.55 432.33,340.91 432.79,346.47 433.25,347.13 433.71,347.53 434.17,340.60 434.63,349.15 435.09,343.48 435.55,342.40 436.01,342.51 436.47,345.04 436.93,343.42 437.39,342.77 437.85,347.18 438.31,341.19 438.77,340.27 439.23,345.81 439.69,345.57 440.15,346.77 440.61,340.31 441.07,346.80 441.53,345.04 441.99,348.91 442.45,339.91 442.91,344.34 443.37,342.89 443.83,338.99 444.29,341.64 444.75,347.20 445.21,342.45 445.67,341.72 446.13,346.52 446.59,346.92 447.05,346.94 447.51,341.65 447.97,343.88 448.43,347.17 448.89,342.15 449.35,341.90 449.81,346.67 450.27,348.90 450.73,340.79 451.19,336.49 451.65,339.96 452.11,341.31 452.57,343.96 453.03,346.26 453.49,344.00 453.95,342.38 454.41,344.97 454.87,341.66 455.33,344.43 455.79,342.68 456.25,352.68 456.71,347.12 457.17,342.20 457.63,341.75 458.09,343.46 458.55,339.87 459.01,342.65 459.47,342.65 459.93,347.55 460.39,343.66 460.85,342.60 461.31,340.98 461.77,341.49 462.23,344.83 462.69,344.40 463.15,348.47 463.61,343.19 464.07,348.28 464.53,345.89 464.99,345.12 465.45,339.12 465.91,341.29 466.37,347.40 466.83,349.39 467.29,345.83 467.75,347.52 468.21,344.02 468.67,344.15 469.13,343.29 469.59,348.22 470.05,346.34 470.51,344.63 470.97,344.36 471.43,347.03 471.89,346.35 472.35,342.90 472.81,350.56 473.27,346.20 473.73,345.47 474.19,349.89 474.65,348.55 475.11,345.23 475.57,347.12 476.03,342.31 476.49,343.62 476.95,338.78 477.41,349.24 477.87,339.90 478.33,347.65 478.79,343.13 479.25,342.70 479.71,345.07 480.17,346.47 480.63,347.52 481.09,351.02 481.55,346.80 482.01,348.38 482.47,343.96 482.93,347.91 483.39,346.25 483.85,344.41 484.31,345.53 484.77,345.65 485.23,346.43 485.69,347.07 486.15,344.36 486.61,343.68 487.07,348.16 487.53,340.84 487.99,344.10 488.45,350.63 488.91,337.86 489.37,343.92" fill="none" stroke="#84e046" stroke-width="0.76" stroke-linejoin="round" stroke-opacity="0.9"/>
<polyline points="349.31,264.00 349.59,274.35 350.02,300.50 350.44,297.09 351.00,321.89 351.84,332.39 352.30,332.90 352.76,330.75 353.22,336.63 353.68,330.99 354.14,340.25 354.60,330.83 355.06,335.77 355.52,343.11 355.98,332.31 356.44,336.91 356.90,340.38 357.36,332.48 357.82,347.23 358.28,343.12 358.74,332.86 359.20,342.00 359.66,338.20 360.12,339.42 360.58,344.43 361.04,340.13 361.50,351.12 361.96,341.19 362.42,352.49 362.88,346.49 363.34,352.62 363.80,343.56 364.26,343.84 364.72,339.61 365.18,351.14 365.64,353.63 366.10,361.66 366.56,356.21 367.02,349.26 367.48,346.19 367.94,350.36 368.40,347.57 368.86,357.94 369.32,354.45 369.78,342.12 370.24,343.20 370.70,357.72 371.16,350.33 371.62,346.57 372.08,356.76 372.54,345.57 373.00,346.40 373.46,345.14 373.92,334.28 374.38,354.93 374.84,339.80 375.30,344.55 375.76,343.30 376.22,354.28 376.68,348.43 377.14,349.11 377.60,336.36 378.06,348.31 378.52,337.80 378.98,351.26 379.44,351.70 379.90,348.77 380.36,364.44 380.82,352.90 381.28,353.41 381.74,349.93 382.20,347.34 382.66,356.24 383.12,357.28 383.58,338.71 384.04,356.92 384.50,352.73 384.96,356.19 385.42,352.34 385.88,338.97 386.34,339.49 386.80,362.97 387.26,350.62 387.72,337.46 388.18,351.35 388.64,345.72 389.10,333.96 389.56,330.36 390.02,335.78 390.48,350.69 390.94,348.12 391.40,346.50 391.86,350.76 392.32,353.29 392.78,331.50 393.24,345.99 393.70,341.71 394.16,338.39 394.62,343.93 395.08,347.36 395.54,346.17 396.00,336.44 396.46,344.35 396.92,364.84 397.38,339.61 397.84,334.36 398.30,350.52 398.76,353.16 399.22,352.06 399.68,338.90 400.14,356.48 400.60,341.62 401.06,338.67 401.52,343.04 401.98,347.20 402.44,354.10 402.90,353.33 403.36,347.87 403.81,355.93 404.27,348.72 404.73,355.62 405.19,336.07 405.65,334.60 406.11,354.56 406.57,336.13 407.03,345.37 407.49,347.08 407.95,343.75 408.41,344.03 408.87,359.71 409.33,326.35 409.79,355.35 410.25,367.33 410.71,348.00 411.17,347.62 411.63,353.94 412.09,363.30 412.55,337.64 413.01,348.47 413.47,346.12 413.93,352.44 414.39,349.02 414.85,353.26 415.31,344.05 415.77,348.04 416.23,341.91 416.69,341.94 417.15,346.37 417.61,346.35 418.07,337.57 418.53,360.87 418.99,346.36 419.45,335.73 419.91,356.84 420.37,341.10 420.83,351.76 421.29,347.28 421.75,349.54 422.21,348.85 422.67,342.49 423.13,347.71 423.59,364.62 424.05,328.31 424.51,347.87 424.97,350.99 425.43,338.33 425.89,335.61 426.35,365.60 426.81,344.07 427.27,364.88 427.73,351.75 428.19,347.83 428.65,351.21 429.11,352.54 429.57,357.16 430.03,350.82 430.49,348.33 430.95,348.58 431.41,358.56 431.87,353.99 432.33,338.51 432.79,341.61 433.25,349.81 433.71,341.71 434.17,343.80 434.63,338.87 435.09,344.78 435.55,350.60 436.01,355.46 436.47,347.08 436.93,364.64 437.39,346.35 437.85,374.14 438.31,355.51 438.77,351.22 439.23,342.76 439.69,322.99 440.15,345.68 440.61,348.51 441.07,363.34 441.53,335.27 441.99,363.20 442.45,344.86 442.91,353.15 443.37,325.41 443.83,348.18 444.29,344.08 444.75,352.80 445.21,347.78 445.67,337.29 446.13,355.05 446.59,352.90 447.05,352.07 447.51,355.58 447.97,356.36 448.43,346.81 448.89,335.46 449.35,335.23 449.81,358.47 450.27,353.04 450.73,347.87 451.19,343.31 451.65,347.27 452.11,347.21 452.57,344.14 453.03,341.06 453.49,365.40 453.95,348.94 454.41,341.85 454.87,335.93 455.33,340.83 455.79,353.12 456.25,353.45 456.71,345.14 457.17,347.44 457.63,344.41 458.09,337.58 458.55,358.06 459.01,350.17 459.47,368.05 459.93,340.57 460.39,345.83 460.85,354.51 461.31,344.92 461.77,335.20 462.23,338.93 462.69,347.86 463.15,349.92 463.61,346.20 464.07,355.53 464.53,355.44 464.99,349.74 465.45,347.23 465.91,344.85 466.37,351.68 466.83,354.82 467.29,347.52 467.75,350.82 468.21,344.24 468.67,335.00 469.13,338.49 469.59,353.51 470.05,350.80 470.51,360.52 470.97,347.48 471.43,354.35 471.89,358.25 472.35,355.45 472.81,341.83 473.27,345.43 473.73,348.10 474.19,338.62 474.65,351.03 475.11,355.70 475.57,342.91 476.03,363.77 476.49,344.53 476.95,345.27 477.41,344.97 477.87,340.98 478.33,350.55 478.79,347.17 479.25,361.12 479.71,352.16 480.17,351.57 480.63,345.12 481.09,334.98 481.55,346.24 482.01,339.77 482.47,355.09 482.93,346.74 483.39,361.16 483.85,353.25 484.31,354.10 484.77,348.96 485.23,348.77 485.69,352.55 486.15,354.84 486.61,340.96 487.07,351.18 487.53,369.28 487.99,346.24 488.45,344.83 488.91,341.11 489.37,334.69" fill="none" stroke="#72a8ee" stroke-width="0.76" stroke-linejoin="round" stroke-opacity="0.75"/>
<polyline points="349.31,274.50 349.59,281.69 350.02,292.67 350.44,302.31 351.00,312.39 351.84,313.40 352.30,320.90 352.76,322.77 353.22,325.05 353.68,325.58 354.14,324.21 354.60,329.30 355.06,326.46 355.52,325.78 355.98,328.76 356.44,327.82 356.90,326.59 357.36,326.31 357.82,331.08 358.28,327.21 358.74,325.39 359.20,323.00 359.66,324.82 360.12,322.59 360.58,326.61 361.04,327.26 361.50,319.52 361.96,326.73 362.42,329.06 362.88,327.53 363.34,323.71 363.80,331.55 364.26,324.74 364.72,322.95 365.18,323.53 365.64,327.32 366.10,330.88 366.56,331.59 367.02,328.31 367.48,323.46 367.94,325.40 368.40,324.62 368.86,327.21 369.32,321.69 369.78,328.35 370.24,330.28 370.70,327.57 371.16,329.77 371.62,324.94 372.08,323.20 372.54,326.12 373.00,332.47 373.46,332.09 373.92,326.95 374.38,332.83 374.84,327.54 375.30,334.04 375.76,330.50 376.22,327.29 376.68,331.73 377.14,326.30 377.60,325.90 378.06,324.29 378.52,330.28 378.98,329.36 379.44,329.41 379.90,328.44 380.36,334.63 380.82,328.69 381.28,327.87 381.74,334.27 382.20,334.91 382.66,331.64 383.12,325.37 383.58,329.02 384.04,332.82 384.50,331.54 384.96,336.65 385.42,328.69 385.88,335.21 386.34,332.07 386.80,338.15 387.26,334.82 387.72,338.44 388.18,334.45 388.64,333.02 389.10,334.45 389.56,336.39 390.02,335.92 390.48,342.21 390.94,343.11 391.40,340.89 391.86,338.10 392.32,340.70 392.78,339.78 393.24,345.02 393.70,342.82 394.16,343.56 394.62,342.06 395.08,339.19 395.54,342.14 396.00,341.90 396.46,345.12 396.92,344.98 397.38,343.78 397.84,344.91 398.30,348.54 398.76,344.81 399.22,345.31 399.68,346.67 400.14,346.02 400.60,346.47 401.06,347.93 401.52,349.71 401.98,344.69 402.44,347.27 402.90,347.40 403.36,347.27 403.81,347.17 404.27,347.01 404.73,348.90 405.19,346.94 405.65,347.45 406.11,347.67 406.57,347.86 407.03,347.54 407.49,349.11 407.95,347.84 408.41,348.12 408.87,347.88 409.33,346.74 409.79,347.01 410.25,346.80 410.71,348.37 411.17,347.32 411.63,346.96 412.09,348.56 412.55,348.94 413.01,346.33 413.47,350.35 413.93,348.50 414.39,348.39 414.85,349.74 415.31,348.68 415.77,347.99 416.23,351.06 416.69,347.60 417.15,348.69 417.61,349.72 418.07,347.79 418.53,348.83 418.99,349.37 419.45,351.41 419.91,348.14 420.37,348.99 420.83,349.71 421.29,349.15 421.75,347.91 422.21,349.51 422.67,349.23 423.13,349.57 423.59,350.25 424.05,350.15 424.51,349.58 424.97,349.50 425.43,348.17 425.89,349.11 426.35,349.46 426.81,348.89 427.27,349.38 427.73,348.53 428.19,350.76 428.65,351.34 429.11,348.99 429.57,349.74 430.03,349.17 430.49,350.56 430.95,349.82 431.41,349.51 431.87,349.25 432.33,349.58 432.79,348.58 433.25,350.11 433.71,348.88 434.17,350.01 434.63,349.67 435.09,350.55 435.55,349.57 436.01,350.51 436.47,348.79 436.93,350.18 437.39,349.45 437.85,349.84 438.31,349.74 438.77,350.53 439.23,347.92 439.69,350.02 440.15,348.42 440.61,350.83 441.07,348.03 441.53,348.91 441.99,348.33 442.45,351.28 442.91,348.71 443.37,349.96 443.83,349.41 444.29,348.31 444.75,349.61 445.21,350.51 445.67,349.78 446.13,350.78 446.59,349.66 447.05,350.00 447.51,349.67 447.97,350.33 448.43,351.70 448.89,350.37 449.35,350.24 449.81,349.55 450.27,349.45 450.73,351.40 451.19,349.17 451.65,349.36 452.11,350.09 452.57,349.82 453.03,351.90 453.49,348.18 453.95,350.55 454.41,350.87 454.87,349.31 455.33,349.73 455.79,350.68 456.25,351.72 456.71,349.55 457.17,349.00 457.63,351.20 458.09,351.69 458.55,350.12 459.01,348.53 459.47,351.67 459.93,350.28 460.39,351.42 460.85,350.45 461.31,350.18 461.77,350.13 462.23,351.78 462.69,351.77 463.15,348.76 463.61,349.79 464.07,352.10 464.53,350.30 464.99,349.48 465.45,350.65 465.91,350.57 466.37,350.60 466.83,350.29 467.29,350.45 467.75,350.35 468.21,351.03 468.67,350.08 469.13,350.54 469.59,350.67 470.05,351.90 470.51,351.14 470.97,350.75 471.43,351.31 471.89,351.21 472.35,351.80 472.81,351.33 473.27,352.41 473.73,352.06 474.19,350.93 474.65,350.63 475.11,351.72 475.57,351.43 476.03,350.95 476.49,349.83 476.95,349.55 477.41,351.36 477.87,351.72 478.33,351.77 478.79,350.07 479.25,351.99 479.71,350.72 480.17,351.49 480.63,351.53 481.09,350.55 481.55,350.74 482.01,349.55 482.47,350.51 482.93,349.81 483.39,351.64 483.85,351.35 484.31,352.06 484.77,351.62 485.23,350.84 485.69,351.65 486.15,351.07 486.61,351.89 487.07,351.67 487.53,350.64 487.99,351.45 488.45,351.51 488.91,351.24 489.37,352.22" fill="none" stroke="#8a22ee" stroke-width="1.05" stroke-linejoin="round" stroke-opacity="1.0"/>
<rect x="335" y="238.7" width="168.4" height="171" fill="none" stroke="#8e8e8e" stroke-width="0.9"/>
<line x1="349.03" y1="409.7" x2="349.03" y2="407.7" stroke="#8e8e8e" stroke-width="0.8"/>
<line x1="349.03" y1="238.7" x2="349.03" y2="240.7" stroke="#8e8e8e" stroke-width="0.8"/>
<line x1="377.1" y1="409.7" x2="377.1" y2="407.7" stroke="#8e8e8e" stroke-width="0.8"/>
<line x1="377.1" y1="238.7" x2="377.1" y2="240.7" stroke="#8e8e8e" stroke-width="0.8"/>
<line x1="405.17" y1="409.7" x2="405.17" y2="407.7" stroke="#8e8e8e" stroke-width="0.8"/>
<line x1="405.17" y1="238.7" x2="405.17" y2="240.7" stroke="#8e8e8e" stroke-width="0.8"/>
<line x1="433.23" y1="409.7" x2="433.23" y2="407.7" stroke="#8e8e8e" stroke-width="0.8"/>
<line x1="433.23" y1="238.7" x2="433.23" y2="240.7" stroke="#8e8e8e" stroke-width="0.8"/>
<line x1="461.3" y1="409.7" x2="461.3" y2="407.7" stroke="#8e8e8e" stroke-width="0.8"/>
<line x1="461.3" y1="238.7" x2="461.3" y2="240.7" stroke="#8e8e8e" stroke-width="0.8"/>
<line x1="489.37" y1="409.7" x2="489.37" y2="407.7" stroke="#8e8e8e" stroke-width="0.8"/>
<line x1="489.37" y1="238.7" x2="489.37" y2="240.7" stroke="#8e8e8e" stroke-width="0.8"/>
<line x1="335" y1="238.7" x2="337" y2="238.7" stroke="#8e8e8e" stroke-width="0.8"/>
<line x1="503.4" y1="238.7" x2="501.4" y2="238.7" stroke="#8e8e8e" stroke-width="0.8"/>
<line x1="335" y1="295.7" x2="337" y2="295.7" stroke="#8e8e8e" stroke-width="0.8"/>
<line x1="503.4" y1="295.7" x2="501.4" y2="295.7" stroke="#8e8e8e" stroke-width="0.8"/>
<line x1="335" y1="352.7" x2="337" y2="352.7" stroke="#8e8e8e" stroke-width="0.8"/>
<line x1="503.4" y1="352.7" x2="501.4" y2="352.7" stroke="#8e8e8e" stroke-width="0.8"/>
<line x1="335" y1="409.7" x2="337" y2="409.7" stroke="#8e8e8e" stroke-width="0.8"/>
<line x1="503.4" y1="409.7" x2="501.4" y2="409.7" stroke="#8e8e8e" stroke-width="0.8"/>
<line x1="335" y1="392.54" x2="336.4" y2="392.54" stroke="#666" stroke-width="0.8"/>
<line x1="503.4" y1="392.54" x2="502" y2="392.54" stroke="#666" stroke-width="0.8"/>
<line x1="335" y1="382.5" x2="336.4" y2="382.5" stroke="#666" stroke-width="0.8"/>
<line x1="503.4" y1="382.5" x2="502" y2="382.5" stroke="#666" stroke-width="0.8"/>
<line x1="335" y1="375.38" x2="336.4" y2="375.38" stroke="#666" stroke-width="0.8"/>
<line x1="503.4" y1="375.38" x2="502" y2="375.38" stroke="#666" stroke-width="0.8"/>
<line x1="335" y1="369.86" x2="336.4" y2="369.86" stroke="#666" stroke-width="0.8"/>
<line x1="503.4" y1="369.86" x2="502" y2="369.86" stroke="#666" stroke-width="0.8"/>
<line x1="335" y1="365.35" x2="336.4" y2="365.35" stroke="#666" stroke-width="0.8"/>
<line x1="503.4" y1="365.35" x2="502" y2="365.35" stroke="#666" stroke-width="0.8"/>
<line x1="335" y1="361.53" x2="336.4" y2="361.53" stroke="#666" stroke-width="0.8"/>
<line x1="503.4" y1="361.53" x2="502" y2="361.53" stroke="#666" stroke-width="0.8"/>
<line x1="335" y1="358.22" x2="336.4" y2="358.22" stroke="#666" stroke-width="0.8"/>
<line x1="503.4" y1="358.22" x2="502" y2="358.22" stroke="#666" stroke-width="0.8"/>
<line x1="335" y1="355.31" x2="336.4" y2="355.31" stroke="#666" stroke-width="0.8"/>
<line x1="503.4" y1="355.31" x2="502" y2="355.31" stroke="#666" stroke-width="0.8"/>
<line x1="335" y1="335.54" x2="336.4" y2="335.54" stroke="#666" stroke-width="0.8"/>
<line x1="503.4" y1="335.54" x2="502" y2="335.54" stroke="#666" stroke-width="0.8"/>
<line x1="335" y1="325.5" x2="336.4" y2="325.5" stroke="#666" stroke-width="0.8"/>
<line x1="503.4" y1="325.5" x2="502" y2="325.5" stroke="#666" stroke-width="0.8"/>
<line x1="335" y1="318.38" x2="336.4" y2="318.38" stroke="#666" stroke-width="0.8"/>
<line x1="503.4" y1="318.38" x2="502" y2="318.38" stroke="#666" stroke-width="0.8"/>
<line x1="335" y1="312.86" x2="336.4" y2="312.86" stroke="#666" stroke-width="0.8"/>
<line x1="503.4" y1="312.86" x2="502" y2="312.86" stroke="#666" stroke-width="0.8"/>
<line x1="335" y1="308.35" x2="336.4" y2="308.35" stroke="#666" stroke-width="0.8"/>
<line x1="503.4" y1="308.35" x2="502" y2="308.35" stroke="#666" stroke-width="0.8"/>
<line x1="335" y1="304.53" x2="336.4" y2="304.53" stroke="#666" stroke-width="0.8"/>
<line x1="503.4" y1="304.53" x2="502" y2="304.53" stroke="#666" stroke-width="0.8"/>
<line x1="335" y1="301.22" x2="336.4" y2="301.22" stroke="#666" stroke-width="0.8"/>
<line x1="503.4" y1="301.22" x2="502" y2="301.22" stroke="#666" stroke-width="0.8"/>
<line x1="335" y1="298.31" x2="336.4" y2="298.31" stroke="#666" stroke-width="0.8"/>
<line x1="503.4" y1="298.31" x2="502" y2="298.31" stroke="#666" stroke-width="0.8"/>
<line x1="335" y1="278.54" x2="336.4" y2="278.54" stroke="#666" stroke-width="0.8"/>
<line x1="503.4" y1="278.54" x2="502" y2="278.54" stroke="#666" stroke-width="0.8"/>
<line x1="335" y1="268.5" x2="336.4" y2="268.5" stroke="#666" stroke-width="0.8"/>
<line x1="503.4" y1="268.5" x2="502" y2="268.5" stroke="#666" stroke-width="0.8"/>
<line x1="335" y1="261.38" x2="336.4" y2="261.38" stroke="#666" stroke-width="0.8"/>
<line x1="503.4" y1="261.38" x2="502" y2="261.38" stroke="#666" stroke-width="0.8"/>
<line x1="335" y1="255.86" x2="336.4" y2="255.86" stroke="#666" stroke-width="0.8"/>
<line x1="503.4" y1="255.86" x2="502" y2="255.86" stroke="#666" stroke-width="0.8"/>
<line x1="335" y1="251.35" x2="336.4" y2="251.35" stroke="#666" stroke-width="0.8"/>
<line x1="503.4" y1="251.35" x2="502" y2="251.35" stroke="#666" stroke-width="0.8"/>
<line x1="335" y1="247.53" x2="336.4" y2="247.53" stroke="#666" stroke-width="0.8"/>
<line x1="503.4" y1="247.53" x2="502" y2="247.53" stroke="#666" stroke-width="0.8"/>
<line x1="335" y1="244.22" x2="336.4" y2="244.22" stroke="#666" stroke-width="0.8"/>
<line x1="503.4" y1="244.22" x2="502" y2="244.22" stroke="#666" stroke-width="0.8"/>
<line x1="335" y1="241.31" x2="336.4" y2="241.31" stroke="#666" stroke-width="0.8"/>
<line x1="503.4" y1="241.31" x2="502" y2="241.31" stroke="#666" stroke-width="0.8"/>
<text x="332.2" y="238.2" font-size="5.2" text-anchor="end" fill="#333333" color="#333333">0</text>
<text x="328.61" y="242.1" font-size="7.1" text-anchor="end" fill="#333333" color="#333333">10</text>
<text x="331.2" y="295.2" font-size="5.2" text-anchor="end" fill="#333333" color="#333333">-1</text>
<text x="325.58" y="299.1" font-size="7.1" text-anchor="end" fill="#333333" color="#333333">10</text>
<text x="331.2" y="352.2" font-size="5.2" text-anchor="end" fill="#333333" color="#333333">-2</text>
<text x="325.58" y="356.1" font-size="7.1" text-anchor="end" fill="#333333" color="#333333">10</text>
<text x="331.2" y="409.2" font-size="5.2" text-anchor="end" fill="#333333" color="#333333">-3</text>
<text x="325.58" y="413.1" font-size="7.1" text-anchor="end" fill="#333333" color="#333333">10</text>
<text x="349.03" y="420" font-size="7.1" text-anchor="middle" fill="#333333" color="#333333" >0</text>
<text x="377.1" y="420" font-size="7.1" text-anchor="middle" fill="#333333" color="#333333" >1</text>
<text x="405.17" y="420" font-size="7.1" text-anchor="middle" fill="#333333" color="#333333" >2</text>
<text x="433.23" y="420" font-size="7.1" text-anchor="middle" fill="#333333" color="#333333" >3</text>
<text x="461.3" y="420" font-size="7.1" text-anchor="middle" fill="#333333" color="#333333" >4</text>
<text x="489.37" y="420" font-size="7.1" text-anchor="middle" fill="#333333" color="#333333" >5</text>
<text x="416.6" y="430" font-size="7.8" text-anchor="middle" fill="#333333" color="#333333" >Coincidences</text>
<text x="312.6" y="325" font-size="7.8" fill="#333333" color="#333333" text-anchor="middle" transform="rotate(-90 312.6 325)">δD</text>
<text x="487.35" y="433" font-size="8.40" text-anchor="middle" fill="#333333" color="#333333">×</text>
<text x="490.8" y="431.9" font-size="7.0" fill="#333333" color="#333333">10</text>
<text x="499.8" y="428.6" font-size="4.90" fill="#333333" color="#333333">5</text>
<rect x="440.7" y="242.2" width="58.7" height="40" fill="#fff" stroke="#8e8e8e" stroke-width="0.8"/>
<line x1="440.7" y1="251.5" x2="499.4" y2="251.5" stroke="#8e8e8e" stroke-width="0.8"/>
<text x="443.1" y="249.2" font-size="5.75" font-weight="bold" fill="#111" color="#111">Thresholds (keV)</text>
<line x1="452.2" y1="255.8" x2="473.2" y2="255.8" stroke="#e8b455" stroke-width="1.0" stroke-opacity="0.75"/>
<text x="475.1" y="258" font-size="6.2" fill="#222" color="#222">400</text>
<line x1="452.2" y1="262.9" x2="473.2" y2="262.9" stroke="#84e046" stroke-width="1.0" stroke-opacity="0.75"/>
<text x="475.1" y="265.1" font-size="6.2" fill="#222" color="#222">450</text>
<line x1="452.2" y1="270.5" x2="473.2" y2="270.5" stroke="#72a8ee" stroke-width="1.0" stroke-opacity="0.75"/>
<text x="475.1" y="272.7" font-size="6.2" fill="#222" color="#222">475</text>
<line x1="452.2" y1="277.5" x2="473.2" y2="277.5" stroke="#8a22ee" stroke-width="1.0" stroke-opacity="0.75"/>
<text x="475.1" y="279.7" font-size="6.2" fill="#222" color="#222">EW3</text>
<text x="92.2" y="213.8" font-size="13" letter-spacing="0.25" text-anchor="middle" fill="#1a1a1a" color="#1a1a1a" font-family='"Liberation Serif", serif'>(a)</text>
<text x="294.2" y="213.8" font-size="13" letter-spacing="0.25" text-anchor="middle" fill="#1a1a1a" color="#1a1a1a" font-family='"Liberation Serif", serif'>(b)</text>
<text x="501.2" y="213.8" font-size="13" letter-spacing="0.25" text-anchor="middle" fill="#1a1a1a" color="#1a1a1a" font-family='"Liberation Serif", serif'>(c)</text>
<text x="195.0" y="450.5" font-size="13" letter-spacing="0.25" text-anchor="middle" fill="#1a1a1a" color="#1a1a1a" font-family='"Liberation Serif", serif'>(d)</text>
<text x="402.8" y="450.5" font-size="13" letter-spacing="0.25" text-anchor="middle" fill="#1a1a1a" color="#1a1a1a" font-family='"Liberation Serif", serif'>(e)</text>
</svg>
</body></html>
